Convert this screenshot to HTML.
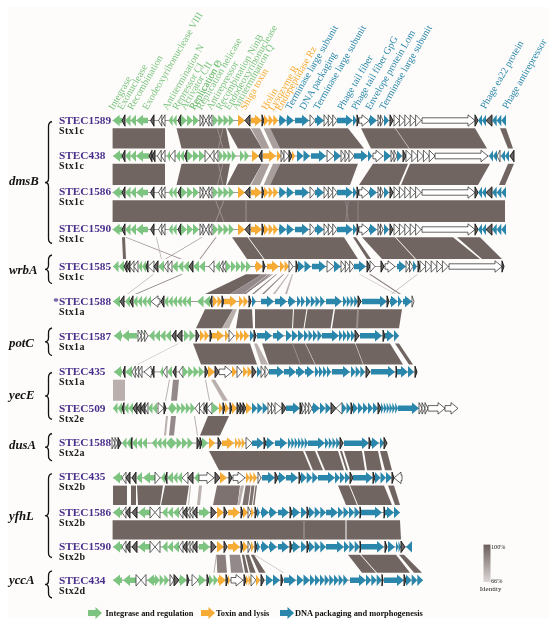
<!DOCTYPE html>
<html><head><meta charset="utf-8"><title>Prophage comparison</title>
<style>
html,body{margin:0;padding:0;background:#fff;}
body{width:550px;height:625px;overflow:hidden;}
svg{display:block;}
</style></head><body>
<svg width="550" height="625" viewBox="0 0 550 625">
<rect x="0" y="0" width="550" height="625" fill="#fff"/>
<rect x="8" y="7" width="541" height="611" fill="#fdfcfa"/>
<polygon points="112.6,128.3 165,128.3 165,148.5 112.6,148.5" fill="#716562"/>
<polygon points="176.5,128.3 226,128.3 230,148.5 181.6,148.5" fill="#716562"/>
<polygon points="227,128.3 250,128.3 262,148.5 238,148.5" fill="#716562"/>
<polygon points="251,128.3 260,128.3 269.5,148.5 262,148.5" fill="#a89e9c"/>
<polygon points="263.6,128.3 270,128.3 280,148.5 273,148.5" fill="#a89e9c"/>
<polygon points="270,128.3 348,128.3 364,148.5 280,148.5" fill="#716562"/>
<polygon points="217,128.3 217.8,128.3 223.3,148.5 222.5,148.5" fill="#a39997"/>
<polygon points="222.5,128.3 223.3,128.3 218.8,148.5 218,148.5" fill="#a39997"/>
<polygon points="361,128.3 395,128.3 409,148.5 371,148.5" fill="#716562"/>
<polygon points="395.5,128.3 475,128.3 487,148.5 409.5,148.5" fill="#716562"/>
<polygon points="500,128.3 506,128.3 513,148.5 508,148.5" fill="#716562"/>
<polygon points="112.6,163.8 165,163.8 165,185.0 112.6,185.0" fill="#716562"/>
<polygon points="181.6,163.8 230,163.8 226,185.0 176.5,185.0" fill="#716562"/>
<polygon points="238,163.8 262,163.8 250,185.0 227,185.0" fill="#716562"/>
<polygon points="262,163.8 269.5,163.8 260,185.0 251,185.0" fill="#a89e9c"/>
<polygon points="273,163.8 280,163.8 270,185.0 263.6,185.0" fill="#a89e9c"/>
<polygon points="280,163.8 358,163.8 350,185.0 270,185.0" fill="#716562"/>
<polygon points="222.5,163.8 223.3,163.8 217.8,185.0 217,185.0" fill="#a39997"/>
<polygon points="218,163.8 218.8,163.8 223.3,185.0 222.5,185.0" fill="#a39997"/>
<polygon points="373,163.8 408,163.8 399,185.0 359,185.0" fill="#716562"/>
<polygon points="410,163.8 490,163.8 478,185.0 401,185.0" fill="#716562"/>
<polygon points="508,163.8 514,163.8 505,185.0 499,185.0" fill="#716562"/>
<polygon points="112.6,200.3 505,200.3 505,222.0 112.6,222.0" fill="#716562"/>
<polygon points="215,200.3 216,200.3 224.5,222.0 223.5,222.0" fill="#9d9391"/>
<polygon points="223.5,200.3 224.5,200.3 216,222.0 215,222.0" fill="#9d9391"/>
<polygon points="245.5,200.3 246.5,200.3 246.5,222.0 245.5,222.0" fill="#9d9391"/>
<polygon points="345,200.3 346,200.3 349,222.0 348,222.0" fill="#8f8583"/>
<polygon points="348,200.3 349,200.3 346,222.0 345,222.0" fill="#8f8583"/>
<polygon points="357.5,200.3 358.5,200.3 358.5,222.0 357.5,222.0" fill="#8f8583"/>
<polygon points="122,237.3 125,237.3 126,259.0 123,259.0" fill="#716562"/>
<polygon points="125,237.3 126.5,237.3 182,259.0 180,259.0" fill="#8a7f7d"/>
<polygon points="156,237.3 156.8,237.3 161.8,259.0 161,259.0" fill="#b9b0ae"/>
<polygon points="201.5,237.3 202.5,237.3 166,259.0 165,259.0" fill="#8a7f7d"/>
<polygon points="215.5,237.3 216.5,237.3 200.5,259.0 199.5,259.0" fill="#8a7f7d"/>
<polygon points="232,237.3 247.5,237.3 263.5,259.0 247,259.0" fill="#716562"/>
<polygon points="248.5,237.3 344,237.3 358,259.0 264.5,259.0" fill="#716562"/>
<polygon points="353,237.3 356,237.3 371,259.0 367,259.0" fill="#716562"/>
<polygon points="362,237.3 395,237.3 415,259.0 382,259.0" fill="#716562"/>
<polygon points="396,237.3 453,237.3 480,259.0 416,259.0" fill="#716562"/>
<polygon points="457,237.3 480,237.3 502,259.0 482,259.0" fill="#716562"/>
<polygon points="153,274.3 154,274.3 128,294.0 127,294.0" fill="#b9b0ae"/>
<polygon points="181,274.3 183,274.3 137,294.0 135,294.0" fill="#8a7f7d"/>
<polygon points="246,274.3 262,274.3 230,294.0 205,294.0" fill="#716562"/>
<polygon points="262,274.3 268,274.3 243,294.0 230,294.0" fill="#94898a"/>
<polygon points="268.5,274.3 271,274.3 246,294.0 243.5,294.0" fill="#94898a"/>
<polygon points="272,274.3 273,274.3 245,294.0 243,294.0" fill="#8a7f7d"/>
<polygon points="276,274.3 277,274.3 254,294.0 252,294.0" fill="#8a7f7d"/>
<polygon points="283,274.3 284,274.3 264,294.0 262,294.0" fill="#8a7f7d"/>
<polygon points="288,274.3 289,274.3 275,294.0 273,294.0" fill="#b9b0ae"/>
<polygon points="292,274.3 293,274.3 287,294.0 285,294.0" fill="#b9b0ae"/>
<polygon points="359,274.3 360,274.3 396,294.0 395,294.0" fill="#b9b0ae"/>
<polygon points="369,274.3 371,274.3 401,294.0 399,294.0" fill="#8a7f7d"/>
<polygon points="417,274.3 418,274.3 392,294.0 391,294.0" fill="#b9b0ae"/>
<polygon points="205,309.3 233,309.3 222,328.3 196,328.3" fill="#716562"/>
<polygon points="233,309.3 237,309.3 229,328.3 222,328.3" fill="#b9b0ae"/>
<polygon points="239,309.3 252,309.3 253,328.3 236,328.3" fill="#716562"/>
<polygon points="255,309.3 293,309.3 292,328.3 255,328.3" fill="#716562"/>
<polygon points="294,309.3 306.5,309.3 303.5,328.3 293,328.3" fill="#716562"/>
<polygon points="307.5,309.3 333.5,309.3 330.5,328.3 304.5,328.3" fill="#716562"/>
<polygon points="335,309.3 402,309.3 399,328.3 332,328.3" fill="#716562"/>
<polygon points="357,309.3 359,309.3 358,328.3 356,328.3" fill="#9a8f8d"/>
<polygon points="178,343.6 179,343.6 138,364.4 137,364.4" fill="#b9b0ae"/>
<polygon points="193,343.6 250,343.6 257,364.4 201,364.4" fill="#716562"/>
<polygon points="254,343.6 257,343.6 268,364.4 261,364.4" fill="#b9b0ae"/>
<polygon points="262,343.6 305,343.6 315,364.4 269,364.4" fill="#716562"/>
<polygon points="292,343.6 293,343.6 301,364.4 300,364.4" fill="#9a8f8d"/>
<polygon points="305.5,343.6 355,343.6 363,364.4 315.5,364.4" fill="#716562"/>
<polygon points="355.5,343.6 390,343.6 403,364.4 363.5,364.4" fill="#716562"/>
<polygon points="395,343.6 399,343.6 413,364.4 409,364.4" fill="#716562"/>
<polygon points="113,379.7 125,379.7 125,400.8 113,400.8" fill="#b9b0ae"/>
<polygon points="169,379.7 170,379.7 166,400.8 165,400.8" fill="#b9b0ae"/>
<polygon points="173,379.7 179,379.7 177,400.8 171,400.8" fill="#94898a"/>
<polygon points="205,379.7 206,379.7 210,400.8 209,400.8" fill="#b9b0ae"/>
<polygon points="211,379.7 215,379.7 228,400.8 223,400.8" fill="#b9b0ae"/>
<polygon points="166,416.1 168,416.1 166,435.6 164,435.6" fill="#b9b0ae"/>
<polygon points="171,416.1 176,416.1 174,435.6 169,435.6" fill="#94898a"/>
<polygon points="194,416.1 195,416.1 198,435.6 197,435.6" fill="#b9b0ae"/>
<polygon points="208,416.1 229,416.1 220,435.6 200,435.6" fill="#716562"/>
<polygon points="209,450.90000000000003 303,450.90000000000003 311,470.3 219,470.3" fill="#716562"/>
<polygon points="305,450.90000000000003 315,450.90000000000003 323,470.3 313,470.3" fill="#716562"/>
<polygon points="317,450.90000000000003 338,450.90000000000003 344,470.3 325,470.3" fill="#716562"/>
<polygon points="340,450.90000000000003 342,450.90000000000003 348,470.3 346,470.3" fill="#716562"/>
<polygon points="344,450.90000000000003 362,450.90000000000003 365,470.3 350,470.3" fill="#716562"/>
<polygon points="364,450.90000000000003 378,450.90000000000003 382,470.3 367,470.3" fill="#716562"/>
<polygon points="380,450.90000000000003 387,450.90000000000003 392,470.3 385,470.3" fill="#716562"/>
<polygon points="113,485.6 127,485.6 127,505.0 113,505.0" fill="#716562"/>
<polygon points="131,485.6 136,485.6 136,505.0 131,505.0" fill="#716562"/>
<polygon points="137,485.6 163,485.6 160,505.0 138,505.0" fill="#716562"/>
<polygon points="165,485.6 189,485.6 186,505.0 161,505.0" fill="#716562"/>
<polygon points="190,485.6 191,485.6 189,505.0 188,505.0" fill="#b9b0ae"/>
<polygon points="199,485.6 202,485.6 200,505.0 197,505.0" fill="#b9b0ae"/>
<polygon points="217,485.6 240,485.6 237.5,505.0 213,505.0" fill="#7d7270"/>
<polygon points="240.7,485.6 244,485.6 240,505.0 237.5,505.0" fill="#b9b0ae"/>
<polygon points="245.6,485.6 250.6,485.6 248,505.0 242.4,505.0" fill="#7d7270"/>
<polygon points="251.4,485.6 254.6,485.6 252,505.0 249,505.0" fill="#7d7270"/>
<polygon points="255.5,485.6 257,485.6 254.6,505.0 253,505.0" fill="#7d7270"/>
<polygon points="338,485.6 349,485.6 357,505.0 346,505.0" fill="#716562"/>
<polygon points="350,485.6 384,485.6 392,505.0 358,505.0" fill="#716562"/>
<polygon points="388,485.6 394,485.6 400,505.0 395,505.0" fill="#716562"/>
<polygon points="112.6,520.3 345.5,520.3 345.5,539.4 112.6,539.4" fill="#716562"/>
<polygon points="346.5,520.3 400,520.3 401,539.4 346.5,539.4" fill="#716562"/>
<polygon points="303,520.3 305,520.3 305,539.4 303,539.4" fill="#8c8280"/>
<polygon points="216,554.6999999999999 217,554.6999999999999 214.5,572.7 213.5,572.7" fill="#b9b0ae"/>
<polygon points="216.5,554.6999999999999 225.5,554.6999999999999 227,572.7 217.3,572.7" fill="#8a7f7d"/>
<polygon points="229.5,554.6999999999999 240,554.6999999999999 243.5,572.7 231,572.7" fill="#94898a"/>
<polygon points="241.8,554.6999999999999 244.3,554.6999999999999 248.4,572.7 245,572.7" fill="#716562"/>
<polygon points="245.5,554.6999999999999 249,554.6999999999999 255.7,572.7 250,572.7" fill="#716562"/>
<polygon points="250.8,554.6999999999999 254,554.6999999999999 265.6,572.7 259,572.7" fill="#716562"/>
<polygon points="254,554.6999999999999 255,554.6999999999999 284,572.7 283,572.7" fill="#b9b0ae"/>
<polygon points="348,554.6999999999999 360,554.6999999999999 376,572.7 362,572.7" fill="#716562"/>
<polygon points="361,554.6999999999999 396,554.6999999999999 410,572.7 377,572.7" fill="#716562"/>
<polygon points="399,554.6999999999999 404,554.6999999999999 422,572.7 414,572.7" fill="#716562"/>
<line x1="112.6" y1="120.5" x2="506.0" y2="120.5" stroke="#555" stroke-width="0.6"/>
<polygon points="122.0,117.8 119.6,117.8 119.6,114.8 112.6,120.5 119.6,126.2 119.6,123.2 122.0,123.2" fill="#7cc480"/>
<polygon points="125.0,114.8 122.0,120.5 125.0,126.2" fill="#6a6464" stroke="#111" stroke-width="0.9" stroke-linejoin="miter"/>
<polygon points="130.5,114.8 125.0,120.5 130.5,126.2" fill="#7cc480"/>
<polygon points="136.0,114.8 130.5,120.5 136.0,126.2" fill="#7cc480"/>
<polygon points="148.0,117.8 143.0,117.8 143.0,114.8 136.0,120.5 143.0,126.2 143.0,123.2 148.0,123.2" fill="#7cc480"/>
<polygon points="154.0,114.8 150.6,120.5 154.0,126.2" fill="#6a6464" stroke="#111" stroke-width="0.9" stroke-linejoin="miter"/>
<polygon points="161.8,114.8 158.6,120.5 161.8,126.2" fill="#fff" stroke="#222" stroke-width="0.7" stroke-linejoin="miter"/>
<polygon points="165.0,114.8 161.8,120.5 165.0,126.2" fill="#fff" stroke="#222" stroke-width="0.7" stroke-linejoin="miter"/>
<polygon points="172.6,114.8 168.6,120.5 172.6,126.2" fill="#7cc480"/>
<polygon points="176.6,114.8 172.6,120.5 176.6,126.2" fill="#7cc480"/>
<polygon points="181.0,114.8 178.0,120.5 181.0,126.2" fill="#6a6464" stroke="#111" stroke-width="0.9" stroke-linejoin="miter"/>
<polygon points="181.0,114.8 187.0,120.5 181.0,126.2" fill="#7cc480"/>
<polygon points="187.0,114.8 193.0,120.5 187.0,126.2" fill="#7cc480"/>
<polygon points="193.0,114.8 199.0,120.5 193.0,126.2" fill="#7cc480"/>
<polygon points="200.0,114.8 203.0,120.5 200.0,126.2" fill="#fff" stroke="#222" stroke-width="0.7" stroke-linejoin="miter"/>
<polygon points="203.0,114.8 206.0,120.5 203.0,126.2" fill="#fff" stroke="#222" stroke-width="0.7" stroke-linejoin="miter"/>
<polygon points="209.0,114.8 206.0,120.5 209.0,126.2" fill="#fff" stroke="#222" stroke-width="0.7" stroke-linejoin="miter"/>
<polygon points="212.0,114.8 209.0,120.5 212.0,126.2" fill="#fff" stroke="#222" stroke-width="0.7" stroke-linejoin="miter"/>
<polygon points="213.0,114.8 218.2,120.5 213.0,126.2" fill="#7cc480"/>
<polygon points="218.2,114.8 223.5,120.5 218.2,126.2" fill="#7cc480"/>
<polygon points="223.5,114.8 228.8,120.5 223.5,126.2" fill="#7cc480"/>
<polygon points="228.8,114.8 234.0,120.5 228.8,126.2" fill="#7cc480"/>
<polygon points="238.0,114.8 245.0,120.5 238.0,126.2" fill="#f6ab35"/>
<polygon points="250.0,114.8 245.0,120.5 250.0,126.2" fill="#6a6464" stroke="#111" stroke-width="0.9" stroke-linejoin="miter"/>
<polygon points="251.0,117.8 255.0,117.8 255.0,114.8 262.0,120.5 255.0,126.2 255.0,123.2 251.0,123.2" fill="#f6ab35"/>
<polygon points="262.0,114.8 264.0,120.5 262.0,126.2" fill="#6a6464" stroke="#111" stroke-width="0.9" stroke-linejoin="miter"/>
<polygon points="264.0,114.8 268.7,120.5 264.0,126.2" fill="#f6ab35"/>
<polygon points="268.7,114.8 273.3,120.5 268.7,126.2" fill="#f6ab35"/>
<polygon points="273.3,114.8 278.0,120.5 273.3,126.2" fill="#f6ab35"/>
<polygon points="279.0,117.8 279.5,117.8 279.5,114.8 286.5,120.5 279.5,126.2 279.5,123.2 279.0,123.2" fill="#2a87ab"/>
<polygon points="286.5,117.8 287.0,117.8 287.0,114.8 294.0,120.5 287.0,126.2 287.0,123.2 286.5,123.2" fill="#2a87ab"/>
<polygon points="295.0,117.8 302.0,117.8 302.0,114.8 309.0,120.5 302.0,126.2 302.0,123.2 295.0,123.2" fill="#2a87ab"/>
<polygon points="310.0,114.8 315.0,120.5 310.0,126.2" fill="#fff" stroke="#222" stroke-width="0.7" stroke-linejoin="miter"/>
<polygon points="315.0,117.8 317.0,117.8 317.0,114.8 324.0,120.5 317.0,126.2 317.0,123.2 315.0,123.2" fill="#2a87ab"/>
<polygon points="324.0,114.8 328.3,120.5 324.0,126.2" fill="#fff" stroke="#222" stroke-width="0.7" stroke-linejoin="miter"/>
<polygon points="328.3,114.8 332.7,120.5 328.3,126.2" fill="#fff" stroke="#222" stroke-width="0.7" stroke-linejoin="miter"/>
<polygon points="332.7,114.8 337.0,120.5 332.7,126.2" fill="#fff" stroke="#222" stroke-width="0.7" stroke-linejoin="miter"/>
<polygon points="337.0,117.8 346.0,117.8 346.0,114.8 353.0,120.5 346.0,126.2 346.0,123.2 337.0,123.2" fill="#2a87ab"/>
<polygon points="353.0,114.8 357.0,120.5 353.0,126.2" fill="#2a87ab"/>
<polygon points="357.0,114.8 359.0,120.5 357.0,126.2" fill="#6a6464" stroke="#111" stroke-width="0.9" stroke-linejoin="miter"/>
<polygon points="359.0,117.8 362.0,117.8 362.0,114.8 369.0,120.5 362.0,126.2 362.0,123.2 359.0,123.2" fill="#fff" stroke="#222" stroke-width="0.7" stroke-linejoin="miter"/>
<polygon points="369.0,117.8 370.0,117.8 370.0,114.8 377.0,120.5 370.0,126.2 370.0,123.2 369.0,123.2" fill="#2a87ab"/>
<polygon points="378.0,114.8 380.5,120.5 378.0,126.2" fill="#fff" stroke="#222" stroke-width="0.7" stroke-linejoin="miter"/>
<polygon points="380.5,114.8 383.0,120.5 380.5,126.2" fill="#fff" stroke="#222" stroke-width="0.7" stroke-linejoin="miter"/>
<polygon points="384.0,114.8 389.0,120.5 384.0,126.2" fill="#2a87ab"/>
<polygon points="390.0,114.8 393.0,120.5 390.0,126.2" fill="#6a6464" stroke="#111" stroke-width="0.9" stroke-linejoin="miter"/>
<polygon points="394.0,114.8 399.4,120.5 394.0,126.2" fill="#fff" stroke="#222" stroke-width="0.7" stroke-linejoin="miter"/>
<polygon points="399.4,114.8 404.8,120.5 399.4,126.2" fill="#fff" stroke="#222" stroke-width="0.7" stroke-linejoin="miter"/>
<polygon points="404.8,114.8 410.2,120.5 404.8,126.2" fill="#fff" stroke="#222" stroke-width="0.7" stroke-linejoin="miter"/>
<polygon points="410.2,114.8 415.6,120.5 410.2,126.2" fill="#fff" stroke="#222" stroke-width="0.7" stroke-linejoin="miter"/>
<polygon points="415.6,114.8 421.0,120.5 415.6,126.2" fill="#fff" stroke="#222" stroke-width="0.7" stroke-linejoin="miter"/>
<polygon points="422.0,117.8 468.0,117.8 468.0,114.8 475.0,120.5 468.0,126.2 468.0,123.2 422.0,123.2" fill="#fff" stroke="#222" stroke-width="0.7" stroke-linejoin="miter"/>
<polygon points="475.0,114.8 478.0,120.5 475.0,126.2" fill="#6a6464" stroke="#111" stroke-width="0.9" stroke-linejoin="miter"/>
<polygon points="482.0,114.8 478.0,120.5 482.0,126.2" fill="#2a87ab"/>
<polygon points="486.0,114.8 482.0,120.5 486.0,126.2" fill="#2a87ab"/>
<polygon points="492.0,114.8 486.0,120.5 492.0,126.2" fill="#6a6464" stroke="#111" stroke-width="0.9" stroke-linejoin="miter"/>
<polygon points="496.7,114.8 492.0,120.5 496.7,126.2" fill="#2a87ab"/>
<polygon points="501.3,114.8 496.7,120.5 501.3,126.2" fill="#2a87ab"/>
<polygon points="506.0,114.8 501.3,120.5 506.0,126.2" fill="#2a87ab"/>
<line x1="113.0" y1="156.0" x2="514.0" y2="156.0" stroke="#555" stroke-width="0.6"/>
<polygon points="122.0,153.2 120.0,153.2 120.0,150.2 113.0,156.0 120.0,161.8 120.0,158.8 122.0,158.8" fill="#7cc480"/>
<polygon points="125.0,150.2 122.0,156.0 125.0,161.8" fill="#6a6464" stroke="#111" stroke-width="0.9" stroke-linejoin="miter"/>
<polygon points="130.5,150.2 125.0,156.0 130.5,161.8" fill="#7cc480"/>
<polygon points="136.0,150.2 130.5,156.0 136.0,161.8" fill="#7cc480"/>
<polygon points="149.0,153.2 143.0,153.2 143.0,150.2 136.0,156.0 143.0,161.8 143.0,158.8 149.0,158.8" fill="#7cc480"/>
<polygon points="152.0,150.2 149.0,156.0 152.0,161.8" fill="#6a6464" stroke="#111" stroke-width="0.9" stroke-linejoin="miter"/>
<polygon points="155.0,150.2 152.0,156.0 155.0,161.8" fill="#6a6464" stroke="#111" stroke-width="0.9" stroke-linejoin="miter"/>
<polygon points="161.2,150.2 157.4,156.0 161.2,161.8" fill="#fff" stroke="#222" stroke-width="0.7" stroke-linejoin="miter"/>
<polygon points="165.0,150.2 161.2,156.0 165.0,161.8" fill="#fff" stroke="#222" stroke-width="0.7" stroke-linejoin="miter"/>
<polygon points="170.0,150.2 167.0,156.0 170.0,161.8" fill="#7cc480"/>
<polygon points="175.0,150.2 170.0,156.0 175.0,161.8" fill="#fff" stroke="#222" stroke-width="0.7" stroke-linejoin="miter"/>
<polygon points="180.0,150.2 176.0,156.0 180.0,161.8" fill="#7cc480"/>
<polygon points="184.0,150.2 180.0,156.0 184.0,161.8" fill="#7cc480"/>
<polygon points="187.0,150.2 184.6,156.0 187.0,161.8" fill="#6a6464" stroke="#111" stroke-width="0.9" stroke-linejoin="miter"/>
<polygon points="187.0,150.2 193.0,156.0 187.0,161.8" fill="#7cc480"/>
<polygon points="193.0,150.2 199.0,156.0 193.0,161.8" fill="#7cc480"/>
<polygon points="199.0,150.2 205.0,156.0 199.0,161.8" fill="#7cc480"/>
<polygon points="205.0,150.2 210.0,156.0 205.0,161.8" fill="#fff" stroke="#222" stroke-width="0.7" stroke-linejoin="miter"/>
<polygon points="214.0,150.2 210.0,156.0 214.0,161.8" fill="#fff" stroke="#222" stroke-width="0.7" stroke-linejoin="miter"/>
<polygon points="218.0,150.2 214.0,156.0 218.0,161.8" fill="#fff" stroke="#222" stroke-width="0.7" stroke-linejoin="miter"/>
<polygon points="219.0,150.2 223.2,156.0 219.0,161.8" fill="#7cc480"/>
<polygon points="223.2,150.2 227.5,156.0 223.2,161.8" fill="#7cc480"/>
<polygon points="227.5,150.2 231.8,156.0 227.5,161.8" fill="#7cc480"/>
<polygon points="231.8,150.2 236.0,156.0 231.8,161.8" fill="#7cc480"/>
<polygon points="240.0,150.2 244.5,156.0 240.0,161.8" fill="#7cc480"/>
<polygon points="244.5,150.2 249.0,156.0 244.5,161.8" fill="#7cc480"/>
<polygon points="252.0,150.2 259.0,156.0 252.0,161.8" fill="#f6ab35"/>
<polygon points="262.0,150.2 259.0,156.0 262.0,161.8" fill="#6a6464" stroke="#111" stroke-width="0.9" stroke-linejoin="miter"/>
<polygon points="263.0,153.2 269.0,153.2 269.0,150.2 276.0,156.0 269.0,161.8 269.0,158.8 263.0,158.8" fill="#f6ab35"/>
<polygon points="277.0,150.2 281.0,156.0 277.0,161.8" fill="#f6ab35"/>
<polygon points="281.0,150.2 284.0,156.0 281.0,161.8" fill="#fff" stroke="#222" stroke-width="0.7" stroke-linejoin="miter"/>
<polygon points="284.0,150.2 289.0,156.0 284.0,161.8" fill="#fff" stroke="#222" stroke-width="0.7" stroke-linejoin="miter"/>
<polygon points="289.0,150.2 292.0,156.0 289.0,161.8" fill="#6a6464" stroke="#111" stroke-width="0.9" stroke-linejoin="miter"/>
<polygon points="292.0,150.2 295.0,156.0 292.0,161.8" fill="#f6ab35"/>
<polygon points="297.0,150.2 303.5,156.0 297.0,161.8" fill="#2a87ab"/>
<polygon points="303.5,150.2 310.0,156.0 303.5,161.8" fill="#2a87ab"/>
<polygon points="311.0,153.2 319.0,153.2 319.0,150.2 326.0,156.0 319.0,161.8 319.0,158.8 311.0,158.8" fill="#2a87ab"/>
<polygon points="327.0,150.2 334.0,156.0 327.0,161.8" fill="#fff" stroke="#222" stroke-width="0.7" stroke-linejoin="miter"/>
<polygon points="334.0,150.2 341.0,156.0 334.0,161.8" fill="#2a87ab"/>
<polygon points="341.0,150.2 345.0,156.0 341.0,161.8" fill="#fff" stroke="#222" stroke-width="0.7" stroke-linejoin="miter"/>
<polygon points="345.0,150.2 349.0,156.0 345.0,161.8" fill="#fff" stroke="#222" stroke-width="0.7" stroke-linejoin="miter"/>
<polygon points="349.0,150.2 354.0,156.0 349.0,161.8" fill="#fff" stroke="#222" stroke-width="0.7" stroke-linejoin="miter"/>
<polygon points="354.0,153.2 361.0,153.2 361.0,150.2 368.0,156.0 361.0,161.8 361.0,158.8 354.0,158.8" fill="#2a87ab"/>
<polygon points="368.0,150.2 372.0,156.0 368.0,161.8" fill="#2a87ab"/>
<polygon points="373.0,153.2 376.0,153.2 376.0,150.2 383.0,156.0 376.0,161.8 376.0,158.8 373.0,158.8" fill="#fff" stroke="#222" stroke-width="0.7" stroke-linejoin="miter"/>
<polygon points="384.0,150.2 391.0,156.0 384.0,161.8" fill="#2a87ab"/>
<polygon points="391.0,150.2 394.0,156.0 391.0,161.8" fill="#fff" stroke="#222" stroke-width="0.7" stroke-linejoin="miter"/>
<polygon points="394.0,150.2 397.0,156.0 394.0,161.8" fill="#fff" stroke="#222" stroke-width="0.7" stroke-linejoin="miter"/>
<polygon points="397.0,150.2 402.0,156.0 397.0,161.8" fill="#2a87ab"/>
<polygon points="403.0,150.2 406.0,156.0 403.0,161.8" fill="#6a6464" stroke="#111" stroke-width="0.9" stroke-linejoin="miter"/>
<polygon points="406.0,150.2 411.8,156.0 406.0,161.8" fill="#fff" stroke="#222" stroke-width="0.7" stroke-linejoin="miter"/>
<polygon points="411.8,150.2 417.6,156.0 411.8,161.8" fill="#fff" stroke="#222" stroke-width="0.7" stroke-linejoin="miter"/>
<polygon points="417.6,150.2 423.4,156.0 417.6,161.8" fill="#fff" stroke="#222" stroke-width="0.7" stroke-linejoin="miter"/>
<polygon points="423.4,150.2 429.2,156.0 423.4,161.8" fill="#fff" stroke="#222" stroke-width="0.7" stroke-linejoin="miter"/>
<polygon points="429.2,150.2 435.0,156.0 429.2,161.8" fill="#fff" stroke="#222" stroke-width="0.7" stroke-linejoin="miter"/>
<polygon points="435.0,153.2 481.0,153.2 481.0,150.2 488.0,156.0 481.0,161.8 481.0,158.8 435.0,158.8" fill="#fff" stroke="#222" stroke-width="0.7" stroke-linejoin="miter"/>
<polygon points="493.0,150.2 489.0,156.0 493.0,161.8" fill="#2a87ab"/>
<polygon points="497.0,150.2 493.0,156.0 497.0,161.8" fill="#2a87ab"/>
<polygon points="500.0,150.2 497.0,156.0 500.0,161.8" fill="#fff" stroke="#222" stroke-width="0.7" stroke-linejoin="miter"/>
<polygon points="505.0,150.2 501.0,156.0 505.0,161.8" fill="#2a87ab"/>
<polygon points="509.0,150.2 505.0,156.0 509.0,161.8" fill="#2a87ab"/>
<polygon points="514.0,150.2 510.0,156.0 514.0,161.8" fill="#6a6464" stroke="#111" stroke-width="0.9" stroke-linejoin="miter"/>
<line x1="112.6" y1="192.5" x2="506.0" y2="192.5" stroke="#555" stroke-width="0.6"/>
<polygon points="122.0,189.8 119.6,189.8 119.6,186.8 112.6,192.5 119.6,198.2 119.6,195.2 122.0,195.2" fill="#7cc480"/>
<polygon points="125.0,186.8 122.0,192.5 125.0,198.2" fill="#6a6464" stroke="#111" stroke-width="0.9" stroke-linejoin="miter"/>
<polygon points="130.5,186.8 125.0,192.5 130.5,198.2" fill="#7cc480"/>
<polygon points="136.0,186.8 130.5,192.5 136.0,198.2" fill="#7cc480"/>
<polygon points="148.0,189.8 143.0,189.8 143.0,186.8 136.0,192.5 143.0,198.2 143.0,195.2 148.0,195.2" fill="#7cc480"/>
<polygon points="154.0,186.8 150.6,192.5 154.0,198.2" fill="#6a6464" stroke="#111" stroke-width="0.9" stroke-linejoin="miter"/>
<polygon points="161.8,186.8 158.6,192.5 161.8,198.2" fill="#fff" stroke="#222" stroke-width="0.7" stroke-linejoin="miter"/>
<polygon points="165.0,186.8 161.8,192.5 165.0,198.2" fill="#fff" stroke="#222" stroke-width="0.7" stroke-linejoin="miter"/>
<polygon points="172.6,186.8 168.6,192.5 172.6,198.2" fill="#7cc480"/>
<polygon points="176.6,186.8 172.6,192.5 176.6,198.2" fill="#7cc480"/>
<polygon points="181.0,186.8 178.0,192.5 181.0,198.2" fill="#6a6464" stroke="#111" stroke-width="0.9" stroke-linejoin="miter"/>
<polygon points="181.0,186.8 187.0,192.5 181.0,198.2" fill="#7cc480"/>
<polygon points="187.0,186.8 193.0,192.5 187.0,198.2" fill="#7cc480"/>
<polygon points="193.0,186.8 199.0,192.5 193.0,198.2" fill="#7cc480"/>
<polygon points="200.0,186.8 203.0,192.5 200.0,198.2" fill="#fff" stroke="#222" stroke-width="0.7" stroke-linejoin="miter"/>
<polygon points="203.0,186.8 206.0,192.5 203.0,198.2" fill="#fff" stroke="#222" stroke-width="0.7" stroke-linejoin="miter"/>
<polygon points="209.0,186.8 206.0,192.5 209.0,198.2" fill="#fff" stroke="#222" stroke-width="0.7" stroke-linejoin="miter"/>
<polygon points="212.0,186.8 209.0,192.5 212.0,198.2" fill="#fff" stroke="#222" stroke-width="0.7" stroke-linejoin="miter"/>
<polygon points="213.0,186.8 218.2,192.5 213.0,198.2" fill="#7cc480"/>
<polygon points="218.2,186.8 223.5,192.5 218.2,198.2" fill="#7cc480"/>
<polygon points="223.5,186.8 228.8,192.5 223.5,198.2" fill="#7cc480"/>
<polygon points="228.8,186.8 234.0,192.5 228.8,198.2" fill="#7cc480"/>
<polygon points="238.0,186.8 245.0,192.5 238.0,198.2" fill="#f6ab35"/>
<polygon points="250.0,186.8 245.0,192.5 250.0,198.2" fill="#6a6464" stroke="#111" stroke-width="0.9" stroke-linejoin="miter"/>
<polygon points="251.0,189.8 255.0,189.8 255.0,186.8 262.0,192.5 255.0,198.2 255.0,195.2 251.0,195.2" fill="#f6ab35"/>
<polygon points="262.0,186.8 264.0,192.5 262.0,198.2" fill="#6a6464" stroke="#111" stroke-width="0.9" stroke-linejoin="miter"/>
<polygon points="264.0,186.8 268.7,192.5 264.0,198.2" fill="#f6ab35"/>
<polygon points="268.7,186.8 273.3,192.5 268.7,198.2" fill="#f6ab35"/>
<polygon points="273.3,186.8 278.0,192.5 273.3,198.2" fill="#f6ab35"/>
<polygon points="279.0,189.8 279.5,189.8 279.5,186.8 286.5,192.5 279.5,198.2 279.5,195.2 279.0,195.2" fill="#2a87ab"/>
<polygon points="286.5,189.8 287.0,189.8 287.0,186.8 294.0,192.5 287.0,198.2 287.0,195.2 286.5,195.2" fill="#2a87ab"/>
<polygon points="295.0,189.8 302.0,189.8 302.0,186.8 309.0,192.5 302.0,198.2 302.0,195.2 295.0,195.2" fill="#2a87ab"/>
<polygon points="310.0,186.8 315.0,192.5 310.0,198.2" fill="#fff" stroke="#222" stroke-width="0.7" stroke-linejoin="miter"/>
<polygon points="315.0,189.8 317.0,189.8 317.0,186.8 324.0,192.5 317.0,198.2 317.0,195.2 315.0,195.2" fill="#2a87ab"/>
<polygon points="324.0,186.8 328.3,192.5 324.0,198.2" fill="#fff" stroke="#222" stroke-width="0.7" stroke-linejoin="miter"/>
<polygon points="328.3,186.8 332.7,192.5 328.3,198.2" fill="#fff" stroke="#222" stroke-width="0.7" stroke-linejoin="miter"/>
<polygon points="332.7,186.8 337.0,192.5 332.7,198.2" fill="#fff" stroke="#222" stroke-width="0.7" stroke-linejoin="miter"/>
<polygon points="337.0,189.8 346.0,189.8 346.0,186.8 353.0,192.5 346.0,198.2 346.0,195.2 337.0,195.2" fill="#2a87ab"/>
<polygon points="353.0,186.8 357.0,192.5 353.0,198.2" fill="#2a87ab"/>
<polygon points="357.0,186.8 359.0,192.5 357.0,198.2" fill="#6a6464" stroke="#111" stroke-width="0.9" stroke-linejoin="miter"/>
<polygon points="359.0,189.8 362.0,189.8 362.0,186.8 369.0,192.5 362.0,198.2 362.0,195.2 359.0,195.2" fill="#fff" stroke="#222" stroke-width="0.7" stroke-linejoin="miter"/>
<polygon points="369.0,189.8 370.0,189.8 370.0,186.8 377.0,192.5 370.0,198.2 370.0,195.2 369.0,195.2" fill="#2a87ab"/>
<polygon points="378.0,186.8 380.5,192.5 378.0,198.2" fill="#fff" stroke="#222" stroke-width="0.7" stroke-linejoin="miter"/>
<polygon points="380.5,186.8 383.0,192.5 380.5,198.2" fill="#fff" stroke="#222" stroke-width="0.7" stroke-linejoin="miter"/>
<polygon points="384.0,186.8 389.0,192.5 384.0,198.2" fill="#2a87ab"/>
<polygon points="390.0,186.8 393.0,192.5 390.0,198.2" fill="#6a6464" stroke="#111" stroke-width="0.9" stroke-linejoin="miter"/>
<polygon points="394.0,186.8 399.4,192.5 394.0,198.2" fill="#fff" stroke="#222" stroke-width="0.7" stroke-linejoin="miter"/>
<polygon points="399.4,186.8 404.8,192.5 399.4,198.2" fill="#fff" stroke="#222" stroke-width="0.7" stroke-linejoin="miter"/>
<polygon points="404.8,186.8 410.2,192.5 404.8,198.2" fill="#fff" stroke="#222" stroke-width="0.7" stroke-linejoin="miter"/>
<polygon points="410.2,186.8 415.6,192.5 410.2,198.2" fill="#fff" stroke="#222" stroke-width="0.7" stroke-linejoin="miter"/>
<polygon points="415.6,186.8 421.0,192.5 415.6,198.2" fill="#fff" stroke="#222" stroke-width="0.7" stroke-linejoin="miter"/>
<polygon points="422.0,189.8 468.0,189.8 468.0,186.8 475.0,192.5 468.0,198.2 468.0,195.2 422.0,195.2" fill="#fff" stroke="#222" stroke-width="0.7" stroke-linejoin="miter"/>
<polygon points="475.0,186.8 478.0,192.5 475.0,198.2" fill="#6a6464" stroke="#111" stroke-width="0.9" stroke-linejoin="miter"/>
<polygon points="482.0,186.8 478.0,192.5 482.0,198.2" fill="#2a87ab"/>
<polygon points="486.0,186.8 482.0,192.5 486.0,198.2" fill="#2a87ab"/>
<polygon points="492.0,186.8 486.0,192.5 492.0,198.2" fill="#6a6464" stroke="#111" stroke-width="0.9" stroke-linejoin="miter"/>
<polygon points="496.7,186.8 492.0,192.5 496.7,198.2" fill="#2a87ab"/>
<polygon points="501.3,186.8 496.7,192.5 501.3,198.2" fill="#2a87ab"/>
<polygon points="506.0,186.8 501.3,192.5 506.0,198.2" fill="#2a87ab"/>
<line x1="112.6" y1="229.5" x2="506.0" y2="229.5" stroke="#555" stroke-width="0.6"/>
<polygon points="122.0,226.8 119.6,226.8 119.6,223.8 112.6,229.5 119.6,235.2 119.6,232.2 122.0,232.2" fill="#7cc480"/>
<polygon points="125.0,223.8 122.0,229.5 125.0,235.2" fill="#6a6464" stroke="#111" stroke-width="0.9" stroke-linejoin="miter"/>
<polygon points="130.5,223.8 125.0,229.5 130.5,235.2" fill="#7cc480"/>
<polygon points="136.0,223.8 130.5,229.5 136.0,235.2" fill="#7cc480"/>
<polygon points="148.0,226.8 143.0,226.8 143.0,223.8 136.0,229.5 143.0,235.2 143.0,232.2 148.0,232.2" fill="#7cc480"/>
<polygon points="154.0,223.8 150.6,229.5 154.0,235.2" fill="#6a6464" stroke="#111" stroke-width="0.9" stroke-linejoin="miter"/>
<polygon points="161.8,223.8 158.6,229.5 161.8,235.2" fill="#fff" stroke="#222" stroke-width="0.7" stroke-linejoin="miter"/>
<polygon points="165.0,223.8 161.8,229.5 165.0,235.2" fill="#fff" stroke="#222" stroke-width="0.7" stroke-linejoin="miter"/>
<polygon points="172.6,223.8 168.6,229.5 172.6,235.2" fill="#7cc480"/>
<polygon points="176.6,223.8 172.6,229.5 176.6,235.2" fill="#7cc480"/>
<polygon points="181.0,223.8 178.0,229.5 181.0,235.2" fill="#6a6464" stroke="#111" stroke-width="0.9" stroke-linejoin="miter"/>
<polygon points="181.0,223.8 187.0,229.5 181.0,235.2" fill="#7cc480"/>
<polygon points="187.0,223.8 193.0,229.5 187.0,235.2" fill="#7cc480"/>
<polygon points="193.0,223.8 199.0,229.5 193.0,235.2" fill="#7cc480"/>
<polygon points="200.0,223.8 203.0,229.5 200.0,235.2" fill="#fff" stroke="#222" stroke-width="0.7" stroke-linejoin="miter"/>
<polygon points="203.0,223.8 206.0,229.5 203.0,235.2" fill="#fff" stroke="#222" stroke-width="0.7" stroke-linejoin="miter"/>
<polygon points="209.0,223.8 206.0,229.5 209.0,235.2" fill="#fff" stroke="#222" stroke-width="0.7" stroke-linejoin="miter"/>
<polygon points="212.0,223.8 209.0,229.5 212.0,235.2" fill="#fff" stroke="#222" stroke-width="0.7" stroke-linejoin="miter"/>
<polygon points="213.0,223.8 218.2,229.5 213.0,235.2" fill="#7cc480"/>
<polygon points="218.2,223.8 223.5,229.5 218.2,235.2" fill="#7cc480"/>
<polygon points="223.5,223.8 228.8,229.5 223.5,235.2" fill="#7cc480"/>
<polygon points="228.8,223.8 234.0,229.5 228.8,235.2" fill="#7cc480"/>
<polygon points="238.0,223.8 245.0,229.5 238.0,235.2" fill="#f6ab35"/>
<polygon points="250.0,223.8 245.0,229.5 250.0,235.2" fill="#6a6464" stroke="#111" stroke-width="0.9" stroke-linejoin="miter"/>
<polygon points="251.0,226.8 255.0,226.8 255.0,223.8 262.0,229.5 255.0,235.2 255.0,232.2 251.0,232.2" fill="#f6ab35"/>
<polygon points="262.0,223.8 264.0,229.5 262.0,235.2" fill="#6a6464" stroke="#111" stroke-width="0.9" stroke-linejoin="miter"/>
<polygon points="264.0,223.8 268.7,229.5 264.0,235.2" fill="#f6ab35"/>
<polygon points="268.7,223.8 273.3,229.5 268.7,235.2" fill="#f6ab35"/>
<polygon points="273.3,223.8 278.0,229.5 273.3,235.2" fill="#f6ab35"/>
<polygon points="279.0,226.8 279.5,226.8 279.5,223.8 286.5,229.5 279.5,235.2 279.5,232.2 279.0,232.2" fill="#2a87ab"/>
<polygon points="286.5,226.8 287.0,226.8 287.0,223.8 294.0,229.5 287.0,235.2 287.0,232.2 286.5,232.2" fill="#2a87ab"/>
<polygon points="295.0,226.8 302.0,226.8 302.0,223.8 309.0,229.5 302.0,235.2 302.0,232.2 295.0,232.2" fill="#2a87ab"/>
<polygon points="310.0,223.8 315.0,229.5 310.0,235.2" fill="#fff" stroke="#222" stroke-width="0.7" stroke-linejoin="miter"/>
<polygon points="315.0,226.8 317.0,226.8 317.0,223.8 324.0,229.5 317.0,235.2 317.0,232.2 315.0,232.2" fill="#2a87ab"/>
<polygon points="324.0,223.8 328.3,229.5 324.0,235.2" fill="#fff" stroke="#222" stroke-width="0.7" stroke-linejoin="miter"/>
<polygon points="328.3,223.8 332.7,229.5 328.3,235.2" fill="#fff" stroke="#222" stroke-width="0.7" stroke-linejoin="miter"/>
<polygon points="332.7,223.8 337.0,229.5 332.7,235.2" fill="#fff" stroke="#222" stroke-width="0.7" stroke-linejoin="miter"/>
<polygon points="337.0,226.8 346.0,226.8 346.0,223.8 353.0,229.5 346.0,235.2 346.0,232.2 337.0,232.2" fill="#2a87ab"/>
<polygon points="353.0,223.8 357.0,229.5 353.0,235.2" fill="#2a87ab"/>
<polygon points="357.0,223.8 359.0,229.5 357.0,235.2" fill="#6a6464" stroke="#111" stroke-width="0.9" stroke-linejoin="miter"/>
<polygon points="359.0,226.8 362.0,226.8 362.0,223.8 369.0,229.5 362.0,235.2 362.0,232.2 359.0,232.2" fill="#fff" stroke="#222" stroke-width="0.7" stroke-linejoin="miter"/>
<polygon points="369.0,226.8 370.0,226.8 370.0,223.8 377.0,229.5 370.0,235.2 370.0,232.2 369.0,232.2" fill="#2a87ab"/>
<polygon points="378.0,223.8 380.5,229.5 378.0,235.2" fill="#fff" stroke="#222" stroke-width="0.7" stroke-linejoin="miter"/>
<polygon points="380.5,223.8 383.0,229.5 380.5,235.2" fill="#fff" stroke="#222" stroke-width="0.7" stroke-linejoin="miter"/>
<polygon points="384.0,223.8 389.0,229.5 384.0,235.2" fill="#2a87ab"/>
<polygon points="390.0,223.8 393.0,229.5 390.0,235.2" fill="#6a6464" stroke="#111" stroke-width="0.9" stroke-linejoin="miter"/>
<polygon points="394.0,223.8 399.4,229.5 394.0,235.2" fill="#fff" stroke="#222" stroke-width="0.7" stroke-linejoin="miter"/>
<polygon points="399.4,223.8 404.8,229.5 399.4,235.2" fill="#fff" stroke="#222" stroke-width="0.7" stroke-linejoin="miter"/>
<polygon points="404.8,223.8 410.2,229.5 404.8,235.2" fill="#fff" stroke="#222" stroke-width="0.7" stroke-linejoin="miter"/>
<polygon points="410.2,223.8 415.6,229.5 410.2,235.2" fill="#fff" stroke="#222" stroke-width="0.7" stroke-linejoin="miter"/>
<polygon points="415.6,223.8 421.0,229.5 415.6,235.2" fill="#fff" stroke="#222" stroke-width="0.7" stroke-linejoin="miter"/>
<polygon points="422.0,226.8 468.0,226.8 468.0,223.8 475.0,229.5 468.0,235.2 468.0,232.2 422.0,232.2" fill="#fff" stroke="#222" stroke-width="0.7" stroke-linejoin="miter"/>
<polygon points="475.0,223.8 478.0,229.5 475.0,235.2" fill="#6a6464" stroke="#111" stroke-width="0.9" stroke-linejoin="miter"/>
<polygon points="482.0,223.8 478.0,229.5 482.0,235.2" fill="#2a87ab"/>
<polygon points="486.0,223.8 482.0,229.5 486.0,235.2" fill="#2a87ab"/>
<polygon points="492.0,223.8 486.0,229.5 492.0,235.2" fill="#6a6464" stroke="#111" stroke-width="0.9" stroke-linejoin="miter"/>
<polygon points="496.7,223.8 492.0,229.5 496.7,235.2" fill="#2a87ab"/>
<polygon points="501.3,223.8 496.7,229.5 501.3,235.2" fill="#2a87ab"/>
<polygon points="506.0,223.8 501.3,229.5 506.0,235.2" fill="#2a87ab"/>
<line x1="113.0" y1="266.5" x2="504.0" y2="266.5" stroke="#555" stroke-width="0.6"/>
<polygon points="118.5,260.8 113.0,266.5 118.5,272.2" fill="#7cc480"/>
<polygon points="124.0,260.8 118.5,266.5 124.0,272.2" fill="#7cc480"/>
<polygon points="127.0,260.8 124.0,266.5 127.0,272.2" fill="#6a6464" stroke="#111" stroke-width="0.9" stroke-linejoin="miter"/>
<polygon points="130.0,260.8 127.0,266.5 130.0,272.2" fill="#6a6464" stroke="#111" stroke-width="0.9" stroke-linejoin="miter"/>
<polygon points="134.0,260.8 130.0,266.5 134.0,272.2" fill="#fff" stroke="#222" stroke-width="0.7" stroke-linejoin="miter"/>
<polygon points="138.0,260.8 134.0,266.5 138.0,272.2" fill="#fff" stroke="#222" stroke-width="0.7" stroke-linejoin="miter"/>
<polygon points="142.0,260.8 138.0,266.5 142.0,272.2" fill="#7cc480"/>
<polygon points="146.0,260.8 142.0,266.5 146.0,272.2" fill="#7cc480"/>
<polygon points="148.0,260.8 146.0,266.5 148.0,272.2" fill="#6a6464" stroke="#111" stroke-width="0.9" stroke-linejoin="miter"/>
<polygon points="154.0,260.8 148.0,266.5 154.0,272.2" fill="#fff" stroke="#222" stroke-width="0.7" stroke-linejoin="miter"/>
<polygon points="158.0,260.8 154.0,266.5 158.0,272.2" fill="#6a6464" stroke="#111" stroke-width="0.9" stroke-linejoin="miter"/>
<polygon points="164.0,260.8 158.0,266.5 164.0,272.2" fill="#7cc480"/>
<polygon points="168.0,260.8 164.0,266.5 168.0,272.2" fill="#fff" stroke="#222" stroke-width="0.7" stroke-linejoin="miter"/>
<polygon points="172.0,260.8 168.0,266.5 172.0,272.2" fill="#fff" stroke="#222" stroke-width="0.7" stroke-linejoin="miter"/>
<polygon points="177.7,260.8 172.0,266.5 177.7,272.2" fill="#7cc480"/>
<polygon points="183.3,260.8 177.7,266.5 183.3,272.2" fill="#7cc480"/>
<polygon points="189.0,260.8 183.3,266.5 189.0,272.2" fill="#7cc480"/>
<polygon points="193.0,260.8 189.0,266.5 193.0,272.2" fill="#6a6464" stroke="#111" stroke-width="0.9" stroke-linejoin="miter"/>
<polygon points="199.0,260.8 193.0,266.5 199.0,272.2" fill="#7cc480"/>
<polygon points="205.0,260.8 199.0,266.5 205.0,272.2" fill="#7cc480"/>
<polygon points="214.0,260.8 209.0,266.5 214.0,272.2" fill="#fff" stroke="#222" stroke-width="0.7" stroke-linejoin="miter"/>
<polygon points="220.0,260.8 215.0,266.5 220.0,272.2" fill="#7cc480"/>
<polygon points="223.0,260.8 220.0,266.5 223.0,272.2" fill="#fff" stroke="#222" stroke-width="0.7" stroke-linejoin="miter"/>
<polygon points="226.0,260.8 223.0,266.5 226.0,272.2" fill="#fff" stroke="#222" stroke-width="0.7" stroke-linejoin="miter"/>
<polygon points="226.0,260.8 231.0,266.5 226.0,272.2" fill="#7cc480"/>
<polygon points="231.0,260.8 236.0,266.5 231.0,272.2" fill="#7cc480"/>
<polygon points="236.0,260.8 241.0,266.5 236.0,272.2" fill="#7cc480"/>
<polygon points="241.0,260.8 246.0,266.5 241.0,272.2" fill="#7cc480"/>
<polygon points="246.0,260.8 251.0,266.5 246.0,272.2" fill="#7cc480"/>
<polygon points="255.0,263.8 256.0,263.8 256.0,260.8 263.0,266.5 256.0,272.2 256.0,269.2 255.0,269.2" fill="#f6ab35"/>
<polygon points="263.0,260.8 265.0,266.5 263.0,272.2" fill="#6a6464" stroke="#111" stroke-width="0.9" stroke-linejoin="miter"/>
<polygon points="267.0,263.8 272.0,263.8 272.0,260.8 279.0,266.5 272.0,272.2 272.0,269.2 267.0,269.2" fill="#f6ab35"/>
<polygon points="280.0,260.8 284.5,266.5 280.0,272.2" fill="#f6ab35"/>
<polygon points="284.5,260.8 289.0,266.5 284.5,272.2" fill="#f6ab35"/>
<polygon points="289.0,260.8 293.0,266.5 289.0,272.2" fill="#fff" stroke="#222" stroke-width="0.7" stroke-linejoin="miter"/>
<polygon points="296.0,260.8 298.0,266.5 296.0,272.2" fill="#6a6464" stroke="#111" stroke-width="0.9" stroke-linejoin="miter"/>
<polygon points="298.0,260.8 304.5,266.5 298.0,272.2" fill="#2a87ab"/>
<polygon points="304.5,260.8 311.0,266.5 304.5,272.2" fill="#2a87ab"/>
<polygon points="312.0,263.8 319.0,263.8 319.0,260.8 326.0,266.5 319.0,272.2 319.0,269.2 312.0,269.2" fill="#2a87ab"/>
<polygon points="327.0,260.8 334.0,266.5 327.0,272.2" fill="#fff" stroke="#222" stroke-width="0.7" stroke-linejoin="miter"/>
<polygon points="334.0,260.8 341.0,266.5 334.0,272.2" fill="#2a87ab"/>
<polygon points="341.0,260.8 345.3,266.5 341.0,272.2" fill="#fff" stroke="#222" stroke-width="0.7" stroke-linejoin="miter"/>
<polygon points="345.3,260.8 349.7,266.5 345.3,272.2" fill="#fff" stroke="#222" stroke-width="0.7" stroke-linejoin="miter"/>
<polygon points="349.7,260.8 354.0,266.5 349.7,272.2" fill="#fff" stroke="#222" stroke-width="0.7" stroke-linejoin="miter"/>
<polygon points="354.0,263.8 359.0,263.8 359.0,260.8 366.0,266.5 359.0,272.2 359.0,269.2 354.0,269.2" fill="#2a87ab"/>
<polygon points="367.0,260.8 370.0,266.5 367.0,272.2" fill="#6a6464" stroke="#111" stroke-width="0.9" stroke-linejoin="miter"/>
<polygon points="370.0,260.8 375.0,266.5 370.0,272.2" fill="#fff" stroke="#222" stroke-width="0.7" stroke-linejoin="miter"/>
<polygon points="381.0,260.8 384.0,266.5 381.0,272.2" fill="#6a6464" stroke="#111" stroke-width="0.9" stroke-linejoin="miter"/>
<polygon points="385.0,263.8 388.0,263.8 388.0,260.8 395.0,266.5 388.0,272.2 388.0,269.2 385.0,269.2" fill="#fff" stroke="#222" stroke-width="0.7" stroke-linejoin="miter"/>
<polygon points="397.0,263.8 399.0,263.8 399.0,260.8 406.0,266.5 399.0,272.2 399.0,269.2 397.0,269.2" fill="#2a87ab"/>
<polygon points="406.0,260.8 409.5,266.5 406.0,272.2" fill="#fff" stroke="#222" stroke-width="0.7" stroke-linejoin="miter"/>
<polygon points="409.5,260.8 413.0,266.5 409.5,272.2" fill="#fff" stroke="#222" stroke-width="0.7" stroke-linejoin="miter"/>
<polygon points="413.0,260.8 417.0,266.5 413.0,272.2" fill="#2a87ab"/>
<polygon points="418.0,260.8 420.0,266.5 418.0,272.2" fill="#6a6464" stroke="#111" stroke-width="0.9" stroke-linejoin="miter"/>
<polygon points="420.0,260.8 425.6,266.5 420.0,272.2" fill="#fff" stroke="#222" stroke-width="0.7" stroke-linejoin="miter"/>
<polygon points="425.6,260.8 431.2,266.5 425.6,272.2" fill="#fff" stroke="#222" stroke-width="0.7" stroke-linejoin="miter"/>
<polygon points="431.2,260.8 436.8,266.5 431.2,272.2" fill="#fff" stroke="#222" stroke-width="0.7" stroke-linejoin="miter"/>
<polygon points="436.8,260.8 442.4,266.5 436.8,272.2" fill="#fff" stroke="#222" stroke-width="0.7" stroke-linejoin="miter"/>
<polygon points="442.4,260.8 448.0,266.5 442.4,272.2" fill="#fff" stroke="#222" stroke-width="0.7" stroke-linejoin="miter"/>
<polygon points="449.0,263.8 495.0,263.8 495.0,260.8 502.0,266.5 495.0,272.2 495.0,269.2 449.0,269.2" fill="#fff" stroke="#222" stroke-width="0.7" stroke-linejoin="miter"/>
<polygon points="502.0,260.8 504.0,266.5 502.0,272.2" fill="#6a6464" stroke="#111" stroke-width="0.9" stroke-linejoin="miter"/>
<line x1="113.0" y1="301.5" x2="414.0" y2="301.5" stroke="#555" stroke-width="0.6"/>
<polygon points="120.0,295.8 113.0,301.5 120.0,307.2" fill="#7cc480"/>
<polygon points="124.0,295.8 120.0,301.5 124.0,307.2" fill="#6a6464" stroke="#111" stroke-width="0.9" stroke-linejoin="miter"/>
<polygon points="130.0,295.8 125.0,301.5 130.0,307.2" fill="#7cc480"/>
<polygon points="133.0,295.8 130.0,301.5 133.0,307.2" fill="#6a6464" stroke="#111" stroke-width="0.9" stroke-linejoin="miter"/>
<polygon points="137.5,295.8 133.0,301.5 137.5,307.2" fill="#7cc480"/>
<polygon points="142.0,295.8 137.5,301.5 142.0,307.2" fill="#7cc480"/>
<polygon points="146.5,295.8 142.0,301.5 146.5,307.2" fill="#7cc480"/>
<polygon points="151.0,295.8 146.5,301.5 151.0,307.2" fill="#7cc480"/>
<polygon points="160.0,298.8 158.0,298.8 158.0,295.8 151.0,301.5 158.0,307.2 158.0,304.2 160.0,304.2" fill="#fff" stroke="#222" stroke-width="0.7" stroke-linejoin="miter"/>
<polygon points="164.0,295.8 161.0,301.5 164.0,307.2" fill="#6a6464" stroke="#111" stroke-width="0.9" stroke-linejoin="miter"/>
<polygon points="168.3,295.8 164.0,301.5 168.3,307.2" fill="#7cc480"/>
<polygon points="172.7,295.8 168.3,301.5 172.7,307.2" fill="#7cc480"/>
<polygon points="177.0,295.8 172.7,301.5 177.0,307.2" fill="#7cc480"/>
<polygon points="181.7,295.8 177.0,301.5 181.7,307.2" fill="#7cc480"/>
<polygon points="186.3,295.8 181.7,301.5 186.3,307.2" fill="#7cc480"/>
<polygon points="191.0,295.8 186.3,301.5 191.0,307.2" fill="#7cc480"/>
<polygon points="203.5,295.8 197.0,301.5 203.5,307.2" fill="#7cc480"/>
<polygon points="210.0,295.8 203.5,301.5 210.0,307.2" fill="#7cc480"/>
<polygon points="212.0,295.8 210.0,301.5 212.0,307.2" fill="#6a6464" stroke="#111" stroke-width="0.9" stroke-linejoin="miter"/>
<polygon points="213.0,295.8 217.5,301.5 213.0,307.2" fill="#f6ab35"/>
<polygon points="217.5,295.8 222.0,301.5 217.5,307.2" fill="#f6ab35"/>
<polygon points="222.0,295.8 224.0,301.5 222.0,307.2" fill="#6a6464" stroke="#111" stroke-width="0.9" stroke-linejoin="miter"/>
<polygon points="224.0,298.8 230.0,298.8 230.0,295.8 237.0,301.5 230.0,307.2 230.0,304.2 224.0,304.2" fill="#f6ab35"/>
<polygon points="239.0,295.8 243.5,301.5 239.0,307.2" fill="#f6ab35"/>
<polygon points="243.5,295.8 248.0,301.5 243.5,307.2" fill="#f6ab35"/>
<polygon points="249.0,295.8 251.0,301.5 249.0,307.2" fill="#6a6464" stroke="#111" stroke-width="0.9" stroke-linejoin="miter"/>
<polygon points="252.0,295.8 256.0,301.5 252.0,307.2" fill="#2a87ab"/>
<polygon points="261.0,298.8 267.0,298.8 267.0,295.8 274.0,301.5 267.0,307.2 267.0,304.2 261.0,304.2" fill="#2a87ab"/>
<polygon points="275.0,298.8 280.0,298.8 280.0,295.8 287.0,301.5 280.0,307.2 280.0,304.2 275.0,304.2" fill="#2a87ab"/>
<polygon points="288.0,298.8 289.0,298.8 289.0,295.8 296.0,301.5 289.0,307.2 289.0,304.2 288.0,304.2" fill="#2a87ab"/>
<polygon points="297.0,295.8 301.0,301.5 297.0,307.2" fill="#2a87ab"/>
<polygon points="301.0,295.8 305.0,301.5 301.0,307.2" fill="#2a87ab"/>
<polygon points="306.0,295.8 310.8,301.5 306.0,307.2" fill="#2a87ab"/>
<polygon points="310.8,295.8 315.5,301.5 310.8,307.2" fill="#2a87ab"/>
<polygon points="315.5,295.8 320.2,301.5 315.5,307.2" fill="#2a87ab"/>
<polygon points="320.2,295.8 325.0,301.5 320.2,307.2" fill="#2a87ab"/>
<polygon points="326.0,298.8 335.0,298.8 335.0,295.8 342.0,301.5 335.0,307.2 335.0,304.2 326.0,304.2" fill="#2a87ab"/>
<polygon points="343.0,295.8 346.8,301.5 343.0,307.2" fill="#2a87ab"/>
<polygon points="346.8,295.8 350.5,301.5 346.8,307.2" fill="#2a87ab"/>
<polygon points="350.5,295.8 354.2,301.5 350.5,307.2" fill="#2a87ab"/>
<polygon points="354.2,295.8 358.0,301.5 354.2,307.2" fill="#2a87ab"/>
<polygon points="358.0,295.8 361.0,301.5 358.0,307.2" fill="#6a6464" stroke="#111" stroke-width="0.9" stroke-linejoin="miter"/>
<polygon points="362.0,298.8 380.0,298.8 380.0,295.8 387.0,301.5 380.0,307.2 380.0,304.2 362.0,304.2" fill="#2a87ab"/>
<polygon points="387.0,295.8 389.0,301.5 387.0,307.2" fill="#6a6464" stroke="#111" stroke-width="0.9" stroke-linejoin="miter"/>
<polygon points="390.0,298.8 391.0,298.8 391.0,295.8 398.0,301.5 391.0,307.2 391.0,304.2 390.0,304.2" fill="#2a87ab"/>
<polygon points="398.0,295.8 402.0,301.5 398.0,307.2" fill="#2a87ab"/>
<polygon points="403.0,298.8 405.0,298.8 405.0,295.8 412.0,301.5 405.0,307.2 405.0,304.2 403.0,304.2" fill="#2a87ab"/>
<polygon points="412.0,295.8 414.0,301.5 412.0,307.2" fill="#fff" stroke="#222" stroke-width="0.7" stroke-linejoin="miter"/>
<line x1="114.0" y1="335.8" x2="399.0" y2="335.8" stroke="#555" stroke-width="0.6"/>
<polygon points="122.0,333.1 121.0,333.1 121.0,330.1 114.0,335.8 121.0,341.6 121.0,338.6 122.0,338.6" fill="#7cc480"/>
<polygon points="137.0,333.1 129.0,333.1 129.0,330.1 122.0,335.8 129.0,341.6 129.0,338.6 137.0,338.6" fill="#7cc480"/>
<polygon points="138.0,330.1 141.3,335.8 138.0,341.6" fill="#fff" stroke="#222" stroke-width="0.7" stroke-linejoin="miter"/>
<polygon points="141.3,330.1 144.7,335.8 141.3,341.6" fill="#fff" stroke="#222" stroke-width="0.7" stroke-linejoin="miter"/>
<polygon points="144.7,330.1 148.0,335.8 144.7,341.6" fill="#fff" stroke="#222" stroke-width="0.7" stroke-linejoin="miter"/>
<polygon points="154.5,330.1 149.0,335.8 154.5,341.6" fill="#7cc480"/>
<polygon points="160.0,330.1 154.5,335.8 160.0,341.6" fill="#7cc480"/>
<polygon points="165.5,330.1 160.0,335.8 165.5,341.6" fill="#7cc480"/>
<polygon points="171.0,330.1 165.5,335.8 171.0,341.6" fill="#7cc480"/>
<polygon points="176.0,330.1 172.0,335.8 176.0,341.6" fill="#6a6464" stroke="#111" stroke-width="0.9" stroke-linejoin="miter"/>
<polygon points="182.0,330.1 177.0,335.8 182.0,341.6" fill="#6a6464" stroke="#111" stroke-width="0.9" stroke-linejoin="miter"/>
<polygon points="184.0,330.1 189.5,335.8 184.0,341.6" fill="#7cc480"/>
<polygon points="189.5,330.1 195.0,335.8 189.5,341.6" fill="#7cc480"/>
<polygon points="196.0,330.1 199.0,335.8 196.0,341.6" fill="#6a6464" stroke="#111" stroke-width="0.9" stroke-linejoin="miter"/>
<polygon points="200.0,330.1 204.5,335.8 200.0,341.6" fill="#f6ab35"/>
<polygon points="204.5,330.1 209.0,335.8 204.5,341.6" fill="#f6ab35"/>
<polygon points="210.0,330.1 212.0,335.8 210.0,341.6" fill="#6a6464" stroke="#111" stroke-width="0.9" stroke-linejoin="miter"/>
<polygon points="212.0,333.1 217.0,333.1 217.0,330.1 224.0,335.8 217.0,341.6 217.0,338.6 212.0,338.6" fill="#f6ab35"/>
<polygon points="225.0,330.1 229.0,335.8 225.0,341.6" fill="#f6ab35"/>
<polygon points="229.0,330.1 234.0,335.8 229.0,341.6" fill="#fff" stroke="#222" stroke-width="0.7" stroke-linejoin="miter"/>
<polygon points="236.0,330.1 240.0,335.8 236.0,341.6" fill="#f6ab35"/>
<polygon points="240.0,330.1 244.0,335.8 240.0,341.6" fill="#f6ab35"/>
<polygon points="244.0,330.1 249.0,335.8 244.0,341.6" fill="#f6ab35"/>
<polygon points="250.0,330.1 254.0,335.8 250.0,341.6" fill="#2a87ab"/>
<polygon points="254.0,330.1 256.0,335.8 254.0,341.6" fill="#6a6464" stroke="#111" stroke-width="0.9" stroke-linejoin="miter"/>
<polygon points="257.0,333.1 265.0,333.1 265.0,330.1 272.0,335.8 265.0,341.6 265.0,338.6 257.0,338.6" fill="#2a87ab"/>
<polygon points="273.0,333.1 277.0,333.1 277.0,330.1 284.0,335.8 277.0,341.6 277.0,338.6 273.0,338.6" fill="#2a87ab"/>
<polygon points="286.0,330.1 292.0,335.8 286.0,341.6" fill="#2a87ab"/>
<polygon points="292.0,330.1 298.0,335.8 292.0,341.6" fill="#2a87ab"/>
<polygon points="298.0,330.1 304.0,335.8 298.0,341.6" fill="#2a87ab"/>
<polygon points="304.0,330.1 308.5,335.8 304.0,341.6" fill="#2a87ab"/>
<polygon points="308.5,330.1 313.0,335.8 308.5,341.6" fill="#2a87ab"/>
<polygon points="313.0,330.1 317.5,335.8 313.0,341.6" fill="#2a87ab"/>
<polygon points="317.5,330.1 322.0,335.8 317.5,341.6" fill="#2a87ab"/>
<polygon points="322.0,333.1 332.0,333.1 332.0,330.1 339.0,335.8 332.0,341.6 332.0,338.6 322.0,338.6" fill="#2a87ab"/>
<polygon points="339.0,330.1 343.0,335.8 339.0,341.6" fill="#2a87ab"/>
<polygon points="343.0,330.1 347.0,335.8 343.0,341.6" fill="#2a87ab"/>
<polygon points="347.0,330.1 351.0,335.8 347.0,341.6" fill="#2a87ab"/>
<polygon points="351.0,330.1 355.0,335.8 351.0,341.6" fill="#2a87ab"/>
<polygon points="355.0,330.1 359.0,335.8 355.0,341.6" fill="#6a6464" stroke="#111" stroke-width="0.9" stroke-linejoin="miter"/>
<polygon points="360.0,333.1 375.0,333.1 375.0,330.1 382.0,335.8 375.0,341.6 375.0,338.6 360.0,338.6" fill="#2a87ab"/>
<polygon points="383.0,330.1 385.0,335.8 383.0,341.6" fill="#6a6464" stroke="#111" stroke-width="0.9" stroke-linejoin="miter"/>
<polygon points="385.0,333.1 387.0,333.1 387.0,330.1 394.0,335.8 387.0,341.6 387.0,338.6 385.0,338.6" fill="#2a87ab"/>
<polygon points="394.0,330.1 399.0,335.8 394.0,341.6" fill="#2a87ab"/>
<line x1="114.0" y1="371.9" x2="417.0" y2="371.9" stroke="#555" stroke-width="0.6"/>
<polygon points="122.0,369.1 121.0,369.1 121.0,366.1 114.0,371.9 121.0,377.6 121.0,374.6 122.0,374.6" fill="#7cc480"/>
<polygon points="125.0,366.1 123.0,371.9 125.0,377.6" fill="#6a6464" stroke="#111" stroke-width="0.9" stroke-linejoin="miter"/>
<polygon points="132.0,366.1 125.0,371.9 132.0,377.6" fill="#7cc480"/>
<polygon points="135.3,366.1 132.0,371.9 135.3,377.6" fill="#fff" stroke="#222" stroke-width="0.7" stroke-linejoin="miter"/>
<polygon points="138.7,366.1 135.3,371.9 138.7,377.6" fill="#fff" stroke="#222" stroke-width="0.7" stroke-linejoin="miter"/>
<polygon points="142.0,366.1 138.7,371.9 142.0,377.6" fill="#fff" stroke="#222" stroke-width="0.7" stroke-linejoin="miter"/>
<polygon points="152.0,369.1 151.0,369.1 151.0,366.1 144.0,371.9 151.0,377.6 151.0,374.6 152.0,374.6" fill="#fff" stroke="#222" stroke-width="0.7" stroke-linejoin="miter"/>
<polygon points="154.0,366.1 152.0,371.9 154.0,377.6" fill="#6a6464" stroke="#111" stroke-width="0.9" stroke-linejoin="miter"/>
<polygon points="163.0,366.1 160.0,371.9 163.0,377.6" fill="#7cc480"/>
<polygon points="167.0,366.1 163.0,371.9 167.0,377.6" fill="#fff" stroke="#222" stroke-width="0.7" stroke-linejoin="miter"/>
<polygon points="172.0,366.1 167.0,371.9 172.0,377.6" fill="#7cc480"/>
<polygon points="176.0,366.1 173.0,371.9 176.0,377.6" fill="#6a6464" stroke="#111" stroke-width="0.9" stroke-linejoin="miter"/>
<polygon points="183.0,366.1 179.0,371.9 183.0,377.6" fill="#fff" stroke="#222" stroke-width="0.7" stroke-linejoin="miter"/>
<polygon points="183.0,366.1 188.2,371.9 183.0,377.6" fill="#7cc480"/>
<polygon points="188.2,366.1 193.5,371.9 188.2,377.6" fill="#7cc480"/>
<polygon points="193.5,366.1 198.8,371.9 193.5,377.6" fill="#7cc480"/>
<polygon points="198.8,366.1 204.0,371.9 198.8,377.6" fill="#7cc480"/>
<polygon points="205.0,366.1 208.0,371.9 205.0,377.6" fill="#6a6464" stroke="#111" stroke-width="0.9" stroke-linejoin="miter"/>
<polygon points="208.0,366.1 215.0,371.9 208.0,377.6" fill="#f6ab35"/>
<polygon points="215.0,366.1 219.0,371.9 215.0,377.6" fill="#6a6464" stroke="#111" stroke-width="0.9" stroke-linejoin="miter"/>
<polygon points="219.0,369.1 225.0,369.1 225.0,366.1 232.0,371.9 225.0,377.6 225.0,374.6 219.0,374.6" fill="#fff" stroke="#222" stroke-width="0.7" stroke-linejoin="miter"/>
<polygon points="232.0,366.1 237.0,371.9 232.0,377.6" fill="#f6ab35"/>
<polygon points="237.0,366.1 242.0,371.9 237.0,377.6" fill="#fff" stroke="#222" stroke-width="0.7" stroke-linejoin="miter"/>
<polygon points="243.0,366.1 247.5,371.9 243.0,377.6" fill="#f6ab35"/>
<polygon points="247.5,366.1 252.0,371.9 247.5,377.6" fill="#f6ab35"/>
<polygon points="252.0,366.1 256.0,371.9 252.0,377.6" fill="#6a6464" stroke="#111" stroke-width="0.9" stroke-linejoin="miter"/>
<polygon points="257.0,366.1 261.0,371.9 257.0,377.6" fill="#2a87ab"/>
<polygon points="261.0,366.1 265.0,371.9 261.0,377.6" fill="#fff" stroke="#222" stroke-width="0.7" stroke-linejoin="miter"/>
<polygon points="265.0,366.1 269.0,371.9 265.0,377.6" fill="#fff" stroke="#222" stroke-width="0.7" stroke-linejoin="miter"/>
<polygon points="269.0,369.1 277.0,369.1 277.0,366.1 284.0,371.9 277.0,377.6 277.0,374.6 269.0,374.6" fill="#2a87ab"/>
<polygon points="284.0,369.1 289.0,369.1 289.0,366.1 296.0,371.9 289.0,377.6 289.0,374.6 284.0,374.6" fill="#2a87ab"/>
<polygon points="296.0,369.1 298.0,369.1 298.0,366.1 305.0,371.9 298.0,377.6 298.0,374.6 296.0,374.6" fill="#2a87ab"/>
<polygon points="305.0,369.1 307.0,369.1 307.0,366.1 314.0,371.9 307.0,377.6 307.0,374.6 305.0,374.6" fill="#2a87ab"/>
<polygon points="315.0,366.1 319.0,371.9 315.0,377.6" fill="#2a87ab"/>
<polygon points="319.0,366.1 323.0,371.9 319.0,377.6" fill="#2a87ab"/>
<polygon points="323.0,366.1 327.0,371.9 323.0,377.6" fill="#2a87ab"/>
<polygon points="327.0,366.1 331.0,371.9 327.0,377.6" fill="#2a87ab"/>
<polygon points="332.0,369.1 343.0,369.1 343.0,366.1 350.0,371.9 343.0,377.6 343.0,374.6 332.0,374.6" fill="#2a87ab"/>
<polygon points="351.0,366.1 355.7,371.9 351.0,377.6" fill="#2a87ab"/>
<polygon points="355.7,366.1 360.3,371.9 355.7,377.6" fill="#2a87ab"/>
<polygon points="360.3,366.1 365.0,371.9 360.3,377.6" fill="#2a87ab"/>
<polygon points="366.0,366.1 370.0,371.9 366.0,377.6" fill="#6a6464" stroke="#111" stroke-width="0.9" stroke-linejoin="miter"/>
<polygon points="371.0,369.1 388.0,369.1 388.0,366.1 395.0,371.9 388.0,377.6 388.0,374.6 371.0,374.6" fill="#2a87ab"/>
<polygon points="396.0,366.1 397.0,371.9 396.0,377.6" fill="#6a6464" stroke="#111" stroke-width="0.9" stroke-linejoin="miter"/>
<polygon points="397.0,369.1 401.0,369.1 401.0,366.1 408.0,371.9 401.0,377.6 401.0,374.6 397.0,374.6" fill="#2a87ab"/>
<polygon points="408.0,366.1 414.0,371.9 408.0,377.6" fill="#2a87ab"/>
<polygon points="415.0,366.1 417.0,371.9 415.0,377.6" fill="#6a6464" stroke="#111" stroke-width="0.9" stroke-linejoin="miter"/>
<line x1="113.0" y1="408.3" x2="458.0" y2="408.3" stroke="#555" stroke-width="0.6"/>
<polygon points="117.5,402.6 113.0,408.3 117.5,414.1" fill="#7cc480"/>
<polygon points="122.0,402.6 117.5,408.3 122.0,414.1" fill="#7cc480"/>
<polygon points="124.0,402.6 122.0,408.3 124.0,414.1" fill="#6a6464" stroke="#111" stroke-width="0.9" stroke-linejoin="miter"/>
<polygon points="128.5,402.6 124.0,408.3 128.5,414.1" fill="#7cc480"/>
<polygon points="133.0,402.6 128.5,408.3 133.0,414.1" fill="#7cc480"/>
<polygon points="137.0,402.6 133.0,408.3 137.0,414.1" fill="#6a6464" stroke="#111" stroke-width="0.9" stroke-linejoin="miter"/>
<polygon points="141.0,402.6 137.0,408.3 141.0,414.1" fill="#6a6464" stroke="#111" stroke-width="0.9" stroke-linejoin="miter"/>
<polygon points="145.0,402.6 141.0,408.3 145.0,414.1" fill="#6a6464" stroke="#111" stroke-width="0.9" stroke-linejoin="miter"/>
<polygon points="148.0,402.6 145.0,408.3 148.0,414.1" fill="#fff" stroke="#222" stroke-width="0.7" stroke-linejoin="miter"/>
<polygon points="152.5,402.6 148.0,408.3 152.5,414.1" fill="#7cc480"/>
<polygon points="157.0,402.6 152.5,408.3 157.0,414.1" fill="#7cc480"/>
<polygon points="158.0,402.6 164.0,408.3 158.0,414.1" fill="#fff" stroke="#222" stroke-width="0.7" stroke-linejoin="miter"/>
<polygon points="164.0,402.6 166.0,408.3 164.0,414.1" fill="#6a6464" stroke="#111" stroke-width="0.9" stroke-linejoin="miter"/>
<polygon points="172.0,402.6 168.0,408.3 172.0,414.1" fill="#7cc480"/>
<polygon points="172.0,402.6 176.6,408.3 172.0,414.1" fill="#7cc480"/>
<polygon points="176.6,402.6 181.2,408.3 176.6,414.1" fill="#7cc480"/>
<polygon points="181.2,402.6 185.8,408.3 181.2,414.1" fill="#7cc480"/>
<polygon points="185.8,402.6 190.4,408.3 185.8,414.1" fill="#7cc480"/>
<polygon points="190.4,402.6 195.0,408.3 190.4,414.1" fill="#7cc480"/>
<polygon points="199.5,402.6 195.0,408.3 199.5,414.1" fill="#fff" stroke="#222" stroke-width="0.7" stroke-linejoin="miter"/>
<polygon points="204.0,402.6 199.5,408.3 204.0,414.1" fill="#fff" stroke="#222" stroke-width="0.7" stroke-linejoin="miter"/>
<polygon points="207.0,402.6 204.0,408.3 207.0,414.1" fill="#6a6464" stroke="#111" stroke-width="0.9" stroke-linejoin="miter"/>
<polygon points="212.0,402.6 207.0,408.3 212.0,414.1" fill="#fff" stroke="#222" stroke-width="0.7" stroke-linejoin="miter"/>
<polygon points="212.0,402.6 219.0,408.3 212.0,414.1" fill="#7cc480"/>
<polygon points="219.0,402.6 223.0,408.3 219.0,414.1" fill="#f6ab35"/>
<polygon points="223.0,402.6 225.0,408.3 223.0,414.1" fill="#6a6464" stroke="#111" stroke-width="0.9" stroke-linejoin="miter"/>
<polygon points="225.0,402.6 229.0,408.3 225.0,414.1" fill="#f6ab35"/>
<polygon points="230.0,402.6 232.0,408.3 230.0,414.1" fill="#6a6464" stroke="#111" stroke-width="0.9" stroke-linejoin="miter"/>
<polygon points="232.0,402.6 237.0,408.3 232.0,414.1" fill="#f6ab35"/>
<polygon points="237.0,402.6 240.0,408.3 237.0,414.1" fill="#6a6464" stroke="#111" stroke-width="0.9" stroke-linejoin="miter"/>
<polygon points="240.0,402.6 243.0,408.3 240.0,414.1" fill="#6a6464" stroke="#111" stroke-width="0.9" stroke-linejoin="miter"/>
<polygon points="243.0,402.6 246.0,408.3 243.0,414.1" fill="#6a6464" stroke="#111" stroke-width="0.9" stroke-linejoin="miter"/>
<polygon points="246.0,402.6 252.0,408.3 246.0,414.1" fill="#f6ab35"/>
<polygon points="252.0,402.6 257.3,408.3 252.0,414.1" fill="#2a87ab"/>
<polygon points="257.3,402.6 262.7,408.3 257.3,414.1" fill="#2a87ab"/>
<polygon points="262.7,402.6 268.0,408.3 262.7,414.1" fill="#2a87ab"/>
<polygon points="268.0,402.6 271.5,408.3 268.0,414.1" fill="#fff" stroke="#222" stroke-width="0.7" stroke-linejoin="miter"/>
<polygon points="271.5,402.6 275.0,408.3 271.5,414.1" fill="#fff" stroke="#222" stroke-width="0.7" stroke-linejoin="miter"/>
<polygon points="275.0,402.6 282.0,408.3 275.0,414.1" fill="#fff" stroke="#222" stroke-width="0.7" stroke-linejoin="miter"/>
<polygon points="282.0,402.6 286.0,408.3 282.0,414.1" fill="#6a6464" stroke="#111" stroke-width="0.9" stroke-linejoin="miter"/>
<polygon points="286.0,405.6 293.0,405.6 293.0,402.6 300.0,408.3 293.0,414.1 293.0,411.1 286.0,411.1" fill="#2a87ab"/>
<polygon points="300.0,402.6 302.0,408.3 300.0,414.1" fill="#6a6464" stroke="#111" stroke-width="0.9" stroke-linejoin="miter"/>
<polygon points="302.0,402.6 305.3,408.3 302.0,414.1" fill="#fff" stroke="#222" stroke-width="0.7" stroke-linejoin="miter"/>
<polygon points="305.3,402.6 308.7,408.3 305.3,414.1" fill="#fff" stroke="#222" stroke-width="0.7" stroke-linejoin="miter"/>
<polygon points="308.7,402.6 312.0,408.3 308.7,414.1" fill="#fff" stroke="#222" stroke-width="0.7" stroke-linejoin="miter"/>
<polygon points="312.0,405.6 313.0,405.6 313.0,402.6 320.0,408.3 313.0,414.1 313.0,411.1 312.0,411.1" fill="#2a87ab"/>
<polygon points="320.0,402.6 325.5,408.3 320.0,414.1" fill="#2a87ab"/>
<polygon points="325.5,402.6 331.0,408.3 325.5,414.1" fill="#2a87ab"/>
<polygon points="331.0,402.6 336.0,408.3 331.0,414.1" fill="#6a6464" stroke="#111" stroke-width="0.9" stroke-linejoin="miter"/>
<polygon points="342.0,402.6 336.0,408.3 342.0,414.1" fill="#fff" stroke="#222" stroke-width="0.7" stroke-linejoin="miter"/>
<polygon points="342.0,402.6 346.5,408.3 342.0,414.1" fill="#2a87ab"/>
<polygon points="346.5,402.6 351.0,408.3 346.5,414.1" fill="#2a87ab"/>
<polygon points="351.0,402.6 353.0,408.3 351.0,414.1" fill="#6a6464" stroke="#111" stroke-width="0.9" stroke-linejoin="miter"/>
<polygon points="353.0,402.6 358.0,408.3 353.0,414.1" fill="#2a87ab"/>
<polygon points="358.0,402.6 363.0,408.3 358.0,414.1" fill="#2a87ab"/>
<polygon points="363.0,402.6 368.0,408.3 363.0,414.1" fill="#2a87ab"/>
<polygon points="368.0,402.6 373.0,408.3 368.0,414.1" fill="#2a87ab"/>
<polygon points="373.0,402.6 378.0,408.3 373.0,414.1" fill="#2a87ab"/>
<polygon points="378.0,402.6 381.0,408.3 378.0,414.1" fill="#6a6464" stroke="#111" stroke-width="0.9" stroke-linejoin="miter"/>
<polygon points="381.0,402.6 383.8,408.3 381.0,414.1" fill="#2a87ab"/>
<polygon points="383.8,402.6 386.7,408.3 383.8,414.1" fill="#2a87ab"/>
<polygon points="386.7,402.6 389.5,408.3 386.7,414.1" fill="#2a87ab"/>
<polygon points="389.5,402.6 392.3,408.3 389.5,414.1" fill="#2a87ab"/>
<polygon points="392.3,402.6 395.2,408.3 392.3,414.1" fill="#2a87ab"/>
<polygon points="395.2,402.6 398.0,408.3 395.2,414.1" fill="#2a87ab"/>
<polygon points="398.0,405.6 412.0,405.6 412.0,402.6 419.0,408.3 412.0,414.1 412.0,411.1 398.0,411.1" fill="#2a87ab"/>
<polygon points="419.0,402.6 422.0,408.3 419.0,414.1" fill="#fff" stroke="#222" stroke-width="0.7" stroke-linejoin="miter"/>
<polygon points="422.0,402.6 425.0,408.3 422.0,414.1" fill="#fff" stroke="#222" stroke-width="0.7" stroke-linejoin="miter"/>
<polygon points="425.0,402.6 428.0,408.3 425.0,414.1" fill="#fff" stroke="#222" stroke-width="0.7" stroke-linejoin="miter"/>
<polygon points="428.0,405.6 438.0,405.6 438.0,402.6 445.0,408.3 438.0,414.1 438.0,411.1 428.0,411.1" fill="#fff" stroke="#222" stroke-width="0.7" stroke-linejoin="miter"/>
<polygon points="445.0,405.6 451.0,405.6 451.0,402.6 458.0,408.3 451.0,414.1 451.0,411.1 445.0,411.1" fill="#fff" stroke="#222" stroke-width="0.7" stroke-linejoin="miter"/>
<line x1="112.0" y1="443.1" x2="387.0" y2="443.1" stroke="#555" stroke-width="0.6"/>
<polygon points="112.0,437.4 115.0,443.1 112.0,448.9" fill="#fff" stroke="#222" stroke-width="0.7" stroke-linejoin="miter"/>
<polygon points="115.0,437.4 118.0,443.1 115.0,448.9" fill="#fff" stroke="#222" stroke-width="0.7" stroke-linejoin="miter"/>
<polygon points="118.0,437.4 121.0,443.1 118.0,448.9" fill="#6a6464" stroke="#111" stroke-width="0.9" stroke-linejoin="miter"/>
<polygon points="126.5,437.4 122.0,443.1 126.5,448.9" fill="#7cc480"/>
<polygon points="131.0,437.4 126.5,443.1 131.0,448.9" fill="#7cc480"/>
<polygon points="132.0,437.4 131.0,443.1 132.0,448.9" fill="#6a6464" stroke="#111" stroke-width="0.9" stroke-linejoin="miter"/>
<polygon points="137.0,437.4 132.0,443.1 137.0,448.9" fill="#7cc480"/>
<polygon points="142.0,437.4 137.0,443.1 142.0,448.9" fill="#7cc480"/>
<polygon points="147.0,437.4 142.0,443.1 147.0,448.9" fill="#7cc480"/>
<polygon points="156.8,437.4 152.0,443.1 156.8,448.9" fill="#7cc480"/>
<polygon points="161.5,437.4 156.8,443.1 161.5,448.9" fill="#7cc480"/>
<polygon points="166.2,437.4 161.5,443.1 166.2,448.9" fill="#7cc480"/>
<polygon points="171.0,437.4 166.2,443.1 171.0,448.9" fill="#7cc480"/>
<polygon points="171.0,437.4 176.5,443.1 171.0,448.9" fill="#7cc480"/>
<polygon points="176.5,437.4 182.0,443.1 176.5,448.9" fill="#7cc480"/>
<polygon points="182.0,437.4 187.5,443.1 182.0,448.9" fill="#7cc480"/>
<polygon points="187.5,437.4 193.0,443.1 187.5,448.9" fill="#7cc480"/>
<polygon points="197.0,437.4 200.0,443.1 197.0,448.9" fill="#6a6464" stroke="#111" stroke-width="0.9" stroke-linejoin="miter"/>
<polygon points="200.0,437.4 202.0,443.1 200.0,448.9" fill="#6a6464" stroke="#111" stroke-width="0.9" stroke-linejoin="miter"/>
<polygon points="202.0,437.4 208.0,443.1 202.0,448.9" fill="#7cc480"/>
<polygon points="209.0,437.4 215.0,443.1 209.0,448.9" fill="#f6ab35"/>
<polygon points="218.0,437.4 221.0,443.1 218.0,448.9" fill="#6a6464" stroke="#111" stroke-width="0.9" stroke-linejoin="miter"/>
<polygon points="222.0,440.4 227.0,440.4 227.0,437.4 234.0,443.1 227.0,448.9 227.0,445.9 222.0,445.9" fill="#f6ab35"/>
<polygon points="235.0,437.4 238.3,443.1 235.0,448.9" fill="#f6ab35"/>
<polygon points="238.3,437.4 241.7,443.1 238.3,448.9" fill="#f6ab35"/>
<polygon points="241.7,437.4 245.0,443.1 241.7,448.9" fill="#f6ab35"/>
<polygon points="246.0,437.4 252.0,443.1 246.0,448.9" fill="#fff" stroke="#222" stroke-width="0.7" stroke-linejoin="miter"/>
<polygon points="252.0,440.4 257.0,440.4 257.0,437.4 264.0,443.1 257.0,448.9 257.0,445.9 252.0,445.9" fill="#2a87ab"/>
<polygon points="264.0,437.4 266.0,443.1 264.0,448.9" fill="#6a6464" stroke="#111" stroke-width="0.9" stroke-linejoin="miter"/>
<polygon points="266.0,440.4 267.0,440.4 267.0,437.4 274.0,443.1 267.0,448.9 267.0,445.9 266.0,445.9" fill="#2a87ab"/>
<polygon points="275.0,440.4 280.0,440.4 280.0,437.4 287.0,443.1 280.0,448.9 280.0,445.9 275.0,445.9" fill="#2a87ab"/>
<polygon points="288.0,437.4 291.3,443.1 288.0,448.9" fill="#2a87ab"/>
<polygon points="291.3,437.4 294.7,443.1 291.3,448.9" fill="#2a87ab"/>
<polygon points="294.7,437.4 298.0,443.1 294.7,448.9" fill="#2a87ab"/>
<polygon points="298.0,437.4 301.3,443.1 298.0,448.9" fill="#2a87ab"/>
<polygon points="301.3,437.4 304.7,443.1 301.3,448.9" fill="#2a87ab"/>
<polygon points="304.7,437.4 308.0,443.1 304.7,448.9" fill="#2a87ab"/>
<polygon points="308.0,440.4 318.0,440.4 318.0,437.4 325.0,443.1 318.0,448.9 318.0,445.9 308.0,445.9" fill="#2a87ab"/>
<polygon points="325.0,437.4 328.8,443.1 325.0,448.9" fill="#2a87ab"/>
<polygon points="328.8,437.4 332.5,443.1 328.8,448.9" fill="#2a87ab"/>
<polygon points="332.5,437.4 336.2,443.1 332.5,448.9" fill="#2a87ab"/>
<polygon points="336.2,437.4 340.0,443.1 336.2,448.9" fill="#2a87ab"/>
<polygon points="340.0,437.4 343.0,443.1 340.0,448.9" fill="#6a6464" stroke="#111" stroke-width="0.9" stroke-linejoin="miter"/>
<polygon points="344.0,440.4 362.0,440.4 362.0,437.4 369.0,443.1 362.0,448.9 362.0,445.9 344.0,445.9" fill="#2a87ab"/>
<polygon points="369.0,437.4 371.0,443.1 369.0,448.9" fill="#6a6464" stroke="#111" stroke-width="0.9" stroke-linejoin="miter"/>
<polygon points="371.0,440.4 372.0,440.4 372.0,437.4 379.0,443.1 372.0,448.9 372.0,445.9 371.0,445.9" fill="#2a87ab"/>
<polygon points="380.0,437.4 384.0,443.1 380.0,448.9" fill="#2a87ab"/>
<polygon points="384.0,437.4 387.0,443.1 384.0,448.9" fill="#6a6464" stroke="#111" stroke-width="0.9" stroke-linejoin="miter"/>
<line x1="113.0" y1="477.8" x2="402.0" y2="477.8" stroke="#555" stroke-width="0.6"/>
<polygon points="122.0,475.1 120.0,475.1 120.0,472.1 113.0,477.8 120.0,483.6 120.0,480.6 122.0,480.6" fill="#7cc480"/>
<polygon points="126.0,472.1 122.0,477.8 126.0,483.6" fill="#fff" stroke="#222" stroke-width="0.7" stroke-linejoin="miter"/>
<polygon points="130.0,472.1 126.0,477.8 130.0,483.6" fill="#6a6464" stroke="#111" stroke-width="0.9" stroke-linejoin="miter"/>
<polygon points="136.0,472.1 132.0,477.8 136.0,483.6" fill="#6a6464" stroke="#111" stroke-width="0.9" stroke-linejoin="miter"/>
<polygon points="142.0,472.1 136.0,477.8 142.0,483.6" fill="#7cc480"/>
<polygon points="155.0,475.1 150.0,475.1 150.0,472.1 143.0,477.8 150.0,483.6 150.0,480.6 155.0,480.6" fill="#7cc480"/>
<polygon points="155.0,472.1 160.0,477.8 155.0,483.6" fill="#fff" stroke="#222" stroke-width="0.7" stroke-linejoin="miter"/>
<polygon points="165.0,472.1 161.0,477.8 165.0,483.6" fill="#7cc480"/>
<polygon points="167.0,472.1 165.0,477.8 167.0,483.6" fill="#6a6464" stroke="#111" stroke-width="0.9" stroke-linejoin="miter"/>
<polygon points="173.0,472.1 167.0,477.8 173.0,483.6" fill="#7cc480"/>
<polygon points="177.5,472.1 173.0,477.8 177.5,483.6" fill="#7cc480"/>
<polygon points="182.0,472.1 177.5,477.8 182.0,483.6" fill="#7cc480"/>
<polygon points="188.0,472.1 182.0,477.8 188.0,483.6" fill="#fff" stroke="#222" stroke-width="0.7" stroke-linejoin="miter"/>
<polygon points="193.0,472.1 188.0,477.8 193.0,483.6" fill="#6a6464" stroke="#111" stroke-width="0.9" stroke-linejoin="miter"/>
<polygon points="199.0,472.1 194.0,477.8 199.0,483.6" fill="#7cc480"/>
<polygon points="199.0,475.1 207.0,475.1 207.0,472.1 214.0,477.8 207.0,483.6 207.0,480.6 199.0,480.6" fill="#fff" stroke="#222" stroke-width="0.7" stroke-linejoin="miter"/>
<polygon points="215.0,472.1 220.0,477.8 215.0,483.6" fill="#6a6464" stroke="#111" stroke-width="0.9" stroke-linejoin="miter"/>
<polygon points="220.0,472.1 227.0,477.8 220.0,483.6" fill="#f6ab35"/>
<polygon points="229.0,472.1 232.0,477.8 229.0,483.6" fill="#6a6464" stroke="#111" stroke-width="0.9" stroke-linejoin="miter"/>
<polygon points="233.0,475.1 238.0,475.1 238.0,472.1 245.0,477.8 238.0,483.6 238.0,480.6 233.0,480.6" fill="#fff" stroke="#222" stroke-width="0.7" stroke-linejoin="miter"/>
<polygon points="246.0,472.1 249.7,477.8 246.0,483.6" fill="#f6ab35"/>
<polygon points="249.7,472.1 253.3,477.8 249.7,483.6" fill="#f6ab35"/>
<polygon points="253.3,472.1 257.0,477.8 253.3,483.6" fill="#f6ab35"/>
<polygon points="258.0,472.1 261.0,477.8 258.0,483.6" fill="#fff" stroke="#222" stroke-width="0.7" stroke-linejoin="miter"/>
<polygon points="262.0,475.1 268.0,475.1 268.0,472.1 275.0,477.8 268.0,483.6 268.0,480.6 262.0,480.6" fill="#2a87ab"/>
<polygon points="275.0,472.1 278.0,477.8 275.0,483.6" fill="#6a6464" stroke="#111" stroke-width="0.9" stroke-linejoin="miter"/>
<polygon points="278.0,475.1 279.0,475.1 279.0,472.1 286.0,477.8 279.0,483.6 279.0,480.6 278.0,480.6" fill="#2a87ab"/>
<polygon points="286.0,475.1 291.0,475.1 291.0,472.1 298.0,477.8 291.0,483.6 291.0,480.6 286.0,480.6" fill="#2a87ab"/>
<polygon points="299.0,472.1 301.0,477.8 299.0,483.6" fill="#6a6464" stroke="#111" stroke-width="0.9" stroke-linejoin="miter"/>
<polygon points="301.0,472.1 306.7,477.8 301.0,483.6" fill="#2a87ab"/>
<polygon points="306.7,472.1 312.3,477.8 306.7,483.6" fill="#2a87ab"/>
<polygon points="312.3,472.1 318.0,477.8 312.3,483.6" fill="#2a87ab"/>
<polygon points="318.0,475.1 328.0,475.1 328.0,472.1 335.0,477.8 328.0,483.6 328.0,480.6 318.0,480.6" fill="#2a87ab"/>
<polygon points="335.0,472.1 340.0,477.8 335.0,483.6" fill="#2a87ab"/>
<polygon points="340.0,472.1 345.0,477.8 340.0,483.6" fill="#2a87ab"/>
<polygon points="345.0,472.1 350.0,477.8 345.0,483.6" fill="#2a87ab"/>
<polygon points="350.0,472.1 353.0,477.8 350.0,483.6" fill="#6a6464" stroke="#111" stroke-width="0.9" stroke-linejoin="miter"/>
<polygon points="353.0,475.1 366.0,475.1 366.0,472.1 373.0,477.8 366.0,483.6 366.0,480.6 353.0,480.6" fill="#2a87ab"/>
<polygon points="373.0,472.1 375.0,477.8 373.0,483.6" fill="#6a6464" stroke="#111" stroke-width="0.9" stroke-linejoin="miter"/>
<polygon points="375.0,472.1 380.5,477.8 375.0,483.6" fill="#2a87ab"/>
<polygon points="380.5,472.1 386.0,477.8 380.5,483.6" fill="#2a87ab"/>
<polygon points="386.0,472.1 392.0,477.8 386.0,483.6" fill="#2a87ab"/>
<polygon points="392.0,472.1 394.0,477.8 392.0,483.6" fill="#6a6464" stroke="#111" stroke-width="0.9" stroke-linejoin="miter"/>
<polygon points="402.0,475.1 401.0,475.1 401.0,472.1 394.0,477.8 401.0,483.6 401.0,480.6 402.0,480.6" fill="#fff" stroke="#222" stroke-width="0.7" stroke-linejoin="miter"/>
<line x1="113.0" y1="512.5" x2="400.0" y2="512.5" stroke="#555" stroke-width="0.6"/>
<polygon points="122.0,509.8 120.0,509.8 120.0,506.8 113.0,512.5 120.0,518.2 120.0,515.2 122.0,515.2" fill="#7cc480"/>
<polygon points="126.0,506.8 122.0,512.5 126.0,518.2" fill="#fff" stroke="#222" stroke-width="0.7" stroke-linejoin="miter"/>
<polygon points="130.0,506.8 126.0,512.5 130.0,518.2" fill="#6a6464" stroke="#111" stroke-width="0.9" stroke-linejoin="miter"/>
<polygon points="137.0,506.8 132.0,512.5 137.0,518.2" fill="#6a6464" stroke="#111" stroke-width="0.9" stroke-linejoin="miter"/>
<polygon points="150.0,509.8 145.0,509.8 145.0,506.8 138.0,512.5 145.0,518.2 145.0,515.2 150.0,515.2" fill="#7cc480"/>
<polygon points="150.0,506.8 155.0,512.5 150.0,518.2" fill="#fff" stroke="#222" stroke-width="0.7" stroke-linejoin="miter"/>
<polygon points="160.0,506.8 155.0,512.5 160.0,518.2" fill="#fff" stroke="#222" stroke-width="0.7" stroke-linejoin="miter"/>
<polygon points="167.5,506.8 162.0,512.5 167.5,518.2" fill="#7cc480"/>
<polygon points="173.0,506.8 167.5,512.5 173.0,518.2" fill="#7cc480"/>
<polygon points="179.0,506.8 173.0,512.5 179.0,518.2" fill="#7cc480"/>
<polygon points="183.0,506.8 179.0,512.5 183.0,518.2" fill="#fff" stroke="#222" stroke-width="0.7" stroke-linejoin="miter"/>
<polygon points="187.0,506.8 183.0,512.5 187.0,518.2" fill="#6a6464" stroke="#111" stroke-width="0.9" stroke-linejoin="miter"/>
<polygon points="190.0,506.8 187.0,512.5 190.0,518.2" fill="#fff" stroke="#222" stroke-width="0.7" stroke-linejoin="miter"/>
<polygon points="193.0,506.8 190.0,512.5 193.0,518.2" fill="#fff" stroke="#222" stroke-width="0.7" stroke-linejoin="miter"/>
<polygon points="197.0,506.8 193.0,512.5 197.0,518.2" fill="#6a6464" stroke="#111" stroke-width="0.9" stroke-linejoin="miter"/>
<polygon points="199.0,509.8 203.0,509.8 203.0,506.8 210.0,512.5 203.0,518.2 203.0,515.2 199.0,515.2" fill="#7cc480"/>
<polygon points="211.0,506.8 216.0,512.5 211.0,518.2" fill="#6a6464" stroke="#111" stroke-width="0.9" stroke-linejoin="miter"/>
<polygon points="217.0,506.8 224.0,512.5 217.0,518.2" fill="#f6ab35"/>
<polygon points="224.0,506.8 227.0,512.5 224.0,518.2" fill="#6a6464" stroke="#111" stroke-width="0.9" stroke-linejoin="miter"/>
<polygon points="228.0,509.8 233.0,509.8 233.0,506.8 240.0,512.5 233.0,518.2 233.0,515.2 228.0,515.2" fill="#f6ab35"/>
<polygon points="241.0,506.8 243.0,512.5 241.0,518.2" fill="#6a6464" stroke="#111" stroke-width="0.9" stroke-linejoin="miter"/>
<polygon points="243.0,506.8 248.0,512.5 243.0,518.2" fill="#f6ab35"/>
<polygon points="248.0,506.8 251.0,512.5 248.0,518.2" fill="#fff" stroke="#222" stroke-width="0.7" stroke-linejoin="miter"/>
<polygon points="251.0,506.8 254.0,512.5 251.0,518.2" fill="#f6ab35"/>
<polygon points="255.0,506.8 257.0,512.5 255.0,518.2" fill="#6a6464" stroke="#111" stroke-width="0.9" stroke-linejoin="miter"/>
<polygon points="257.0,506.8 260.0,512.5 257.0,518.2" fill="#2a87ab"/>
<polygon points="261.0,509.8 262.0,509.8 262.0,506.8 269.0,512.5 262.0,518.2 262.0,515.2 261.0,515.2" fill="#2a87ab"/>
<polygon points="269.0,509.8 270.0,509.8 270.0,506.8 277.0,512.5 270.0,518.2 270.0,515.2 269.0,515.2" fill="#2a87ab"/>
<polygon points="278.0,509.8 282.0,509.8 282.0,506.8 289.0,512.5 282.0,518.2 282.0,515.2 278.0,515.2" fill="#2a87ab"/>
<polygon points="290.0,506.8 292.0,512.5 290.0,518.2" fill="#6a6464" stroke="#111" stroke-width="0.9" stroke-linejoin="miter"/>
<polygon points="292.0,509.8 293.0,509.8 293.0,506.8 300.0,512.5 293.0,518.2 293.0,515.2 292.0,515.2" fill="#2a87ab"/>
<polygon points="301.0,506.8 307.0,512.5 301.0,518.2" fill="#2a87ab"/>
<polygon points="307.0,506.8 309.0,512.5 307.0,518.2" fill="#6a6464" stroke="#111" stroke-width="0.9" stroke-linejoin="miter"/>
<polygon points="309.0,506.8 314.7,512.5 309.0,518.2" fill="#2a87ab"/>
<polygon points="314.7,506.8 320.3,512.5 314.7,518.2" fill="#2a87ab"/>
<polygon points="320.3,506.8 326.0,512.5 320.3,518.2" fill="#2a87ab"/>
<polygon points="326.0,509.8 331.0,509.8 331.0,506.8 338.0,512.5 331.0,518.2 331.0,515.2 326.0,515.2" fill="#2a87ab"/>
<polygon points="338.0,506.8 343.5,512.5 338.0,518.2" fill="#2a87ab"/>
<polygon points="343.5,506.8 349.0,512.5 343.5,518.2" fill="#2a87ab"/>
<polygon points="349.0,506.8 354.5,512.5 349.0,518.2" fill="#2a87ab"/>
<polygon points="354.5,506.8 360.0,512.5 354.5,518.2" fill="#2a87ab"/>
<polygon points="360.0,506.8 361.0,512.5 360.0,518.2" fill="#6a6464" stroke="#111" stroke-width="0.9" stroke-linejoin="miter"/>
<polygon points="361.0,509.8 375.0,509.8 375.0,506.8 382.0,512.5 375.0,518.2 375.0,515.2 361.0,515.2" fill="#2a87ab"/>
<polygon points="384.0,506.8 385.0,512.5 384.0,518.2" fill="#6a6464" stroke="#111" stroke-width="0.9" stroke-linejoin="miter"/>
<polygon points="385.0,509.8 387.0,509.8 387.0,506.8 394.0,512.5 387.0,518.2 387.0,515.2 385.0,515.2" fill="#2a87ab"/>
<polygon points="394.0,506.8 400.0,512.5 394.0,518.2" fill="#2a87ab"/>
<line x1="113.0" y1="546.9" x2="412.0" y2="546.9" stroke="#555" stroke-width="0.6"/>
<polygon points="122.0,544.1 120.0,544.1 120.0,541.1 113.0,546.9 120.0,552.6 120.0,549.6 122.0,549.6" fill="#7cc480"/>
<polygon points="126.0,541.1 122.0,546.9 126.0,552.6" fill="#fff" stroke="#222" stroke-width="0.7" stroke-linejoin="miter"/>
<polygon points="130.0,541.1 126.0,546.9 130.0,552.6" fill="#6a6464" stroke="#111" stroke-width="0.9" stroke-linejoin="miter"/>
<polygon points="137.0,541.1 132.0,546.9 137.0,552.6" fill="#6a6464" stroke="#111" stroke-width="0.9" stroke-linejoin="miter"/>
<polygon points="150.0,544.1 145.0,544.1 145.0,541.1 138.0,546.9 145.0,552.6 145.0,549.6 150.0,549.6" fill="#7cc480"/>
<polygon points="150.0,541.1 155.0,546.9 150.0,552.6" fill="#fff" stroke="#222" stroke-width="0.7" stroke-linejoin="miter"/>
<polygon points="160.0,541.1 155.0,546.9 160.0,552.6" fill="#fff" stroke="#222" stroke-width="0.7" stroke-linejoin="miter"/>
<polygon points="167.5,541.1 162.0,546.9 167.5,552.6" fill="#7cc480"/>
<polygon points="173.0,541.1 167.5,546.9 173.0,552.6" fill="#7cc480"/>
<polygon points="179.0,541.1 173.0,546.9 179.0,552.6" fill="#7cc480"/>
<polygon points="183.0,541.1 179.0,546.9 183.0,552.6" fill="#fff" stroke="#222" stroke-width="0.7" stroke-linejoin="miter"/>
<polygon points="187.0,541.1 183.0,546.9 187.0,552.6" fill="#6a6464" stroke="#111" stroke-width="0.9" stroke-linejoin="miter"/>
<polygon points="190.0,541.1 187.0,546.9 190.0,552.6" fill="#fff" stroke="#222" stroke-width="0.7" stroke-linejoin="miter"/>
<polygon points="193.0,541.1 190.0,546.9 193.0,552.6" fill="#fff" stroke="#222" stroke-width="0.7" stroke-linejoin="miter"/>
<polygon points="197.0,541.1 193.0,546.9 197.0,552.6" fill="#6a6464" stroke="#111" stroke-width="0.9" stroke-linejoin="miter"/>
<polygon points="199.0,544.1 203.0,544.1 203.0,541.1 210.0,546.9 203.0,552.6 203.0,549.6 199.0,549.6" fill="#7cc480"/>
<polygon points="211.0,541.1 216.0,546.9 211.0,552.6" fill="#6a6464" stroke="#111" stroke-width="0.9" stroke-linejoin="miter"/>
<polygon points="217.0,541.1 224.0,546.9 217.0,552.6" fill="#f6ab35"/>
<polygon points="224.0,541.1 227.0,546.9 224.0,552.6" fill="#6a6464" stroke="#111" stroke-width="0.9" stroke-linejoin="miter"/>
<polygon points="228.0,544.1 233.0,544.1 233.0,541.1 240.0,546.9 233.0,552.6 233.0,549.6 228.0,549.6" fill="#f6ab35"/>
<polygon points="241.0,541.1 243.0,546.9 241.0,552.6" fill="#6a6464" stroke="#111" stroke-width="0.9" stroke-linejoin="miter"/>
<polygon points="243.0,541.1 248.0,546.9 243.0,552.6" fill="#f6ab35"/>
<polygon points="248.0,541.1 251.0,546.9 248.0,552.6" fill="#fff" stroke="#222" stroke-width="0.7" stroke-linejoin="miter"/>
<polygon points="251.0,541.1 254.0,546.9 251.0,552.6" fill="#f6ab35"/>
<polygon points="255.0,541.1 257.0,546.9 255.0,552.6" fill="#6a6464" stroke="#111" stroke-width="0.9" stroke-linejoin="miter"/>
<polygon points="257.0,541.1 260.0,546.9 257.0,552.6" fill="#2a87ab"/>
<polygon points="261.0,544.1 262.0,544.1 262.0,541.1 269.0,546.9 262.0,552.6 262.0,549.6 261.0,549.6" fill="#2a87ab"/>
<polygon points="269.0,544.1 270.0,544.1 270.0,541.1 277.0,546.9 270.0,552.6 270.0,549.6 269.0,549.6" fill="#2a87ab"/>
<polygon points="278.0,544.1 282.0,544.1 282.0,541.1 289.0,546.9 282.0,552.6 282.0,549.6 278.0,549.6" fill="#2a87ab"/>
<polygon points="290.0,541.1 292.0,546.9 290.0,552.6" fill="#6a6464" stroke="#111" stroke-width="0.9" stroke-linejoin="miter"/>
<polygon points="292.0,544.1 293.0,544.1 293.0,541.1 300.0,546.9 293.0,552.6 293.0,549.6 292.0,549.6" fill="#2a87ab"/>
<polygon points="301.0,541.1 307.0,546.9 301.0,552.6" fill="#2a87ab"/>
<polygon points="307.0,541.1 309.0,546.9 307.0,552.6" fill="#6a6464" stroke="#111" stroke-width="0.9" stroke-linejoin="miter"/>
<polygon points="309.0,541.1 314.7,546.9 309.0,552.6" fill="#2a87ab"/>
<polygon points="314.7,541.1 320.3,546.9 314.7,552.6" fill="#2a87ab"/>
<polygon points="320.3,541.1 326.0,546.9 320.3,552.6" fill="#2a87ab"/>
<polygon points="326.0,544.1 337.0,544.1 337.0,541.1 344.0,546.9 337.0,552.6 337.0,549.6 326.0,549.6" fill="#2a87ab"/>
<polygon points="344.0,541.1 349.3,546.9 344.0,552.6" fill="#2a87ab"/>
<polygon points="349.3,541.1 354.7,546.9 349.3,552.6" fill="#2a87ab"/>
<polygon points="354.7,541.1 360.0,546.9 354.7,552.6" fill="#2a87ab"/>
<polygon points="360.0,541.1 361.0,546.9 360.0,552.6" fill="#6a6464" stroke="#111" stroke-width="0.9" stroke-linejoin="miter"/>
<polygon points="361.0,544.1 377.0,544.1 377.0,541.1 384.0,546.9 377.0,552.6 377.0,549.6 361.0,549.6" fill="#2a87ab"/>
<polygon points="385.0,541.1 387.0,546.9 385.0,552.6" fill="#6a6464" stroke="#111" stroke-width="0.9" stroke-linejoin="miter"/>
<polygon points="388.0,541.1 395.0,546.9 388.0,552.6" fill="#2a87ab"/>
<polygon points="396.0,541.1 398.5,546.9 396.0,552.6" fill="#2a87ab"/>
<polygon points="398.5,541.1 401.0,546.9 398.5,552.6" fill="#2a87ab"/>
<polygon points="401.0,541.1 405.0,546.9 401.0,552.6" fill="#6a6464" stroke="#111" stroke-width="0.9" stroke-linejoin="miter"/>
<polygon points="412.0,541.1 406.0,546.9 412.0,552.6" fill="#2a87ab"/>
<line x1="113.0" y1="580.2" x2="423.0" y2="580.2" stroke="#555" stroke-width="0.6"/>
<polygon points="122.0,577.5 120.0,577.5 120.0,574.5 113.0,580.2 120.0,586.0 120.0,583.0 122.0,583.0" fill="#7cc480"/>
<polygon points="136.0,577.5 130.0,577.5 130.0,574.5 123.0,580.2 130.0,586.0 130.0,583.0 136.0,583.0" fill="#7cc480"/>
<polygon points="136.0,574.5 141.0,580.2 136.0,586.0" fill="#fff" stroke="#222" stroke-width="0.7" stroke-linejoin="miter"/>
<polygon points="146.0,574.5 141.0,580.2 146.0,586.0" fill="#fff" stroke="#222" stroke-width="0.7" stroke-linejoin="miter"/>
<polygon points="155.0,577.5 154.0,577.5 154.0,574.5 147.0,580.2 154.0,586.0 154.0,583.0 155.0,583.0" fill="#7cc480"/>
<polygon points="155.0,574.5 159.7,580.2 155.0,586.0" fill="#7cc480"/>
<polygon points="159.7,574.5 164.3,580.2 159.7,586.0" fill="#7cc480"/>
<polygon points="164.3,574.5 169.0,580.2 164.3,586.0" fill="#7cc480"/>
<polygon points="170.0,574.5 174.0,580.2 170.0,586.0" fill="#fff" stroke="#222" stroke-width="0.7" stroke-linejoin="miter"/>
<polygon points="174.0,574.5 179.0,580.2 174.0,586.0" fill="#6a6464" stroke="#111" stroke-width="0.9" stroke-linejoin="miter"/>
<polygon points="179.0,577.5 180.0,577.5 180.0,574.5 187.0,580.2 180.0,586.0 180.0,583.0 179.0,583.0" fill="#7cc480"/>
<polygon points="187.0,574.5 189.0,580.2 187.0,586.0" fill="#6a6464" stroke="#111" stroke-width="0.9" stroke-linejoin="miter"/>
<polygon points="192.0,574.5 198.0,580.2 192.0,586.0" fill="#fff" stroke="#222" stroke-width="0.7" stroke-linejoin="miter"/>
<polygon points="198.0,577.5 199.0,577.5 199.0,574.5 206.0,580.2 199.0,586.0 199.0,583.0 198.0,583.0" fill="#7cc480"/>
<polygon points="207.0,574.5 209.0,580.2 207.0,586.0" fill="#6a6464" stroke="#111" stroke-width="0.9" stroke-linejoin="miter"/>
<polygon points="209.0,574.5 213.5,580.2 209.0,586.0" fill="#7cc480"/>
<polygon points="213.5,574.5 218.0,580.2 213.5,586.0" fill="#7cc480"/>
<polygon points="218.0,577.5 219.0,577.5 219.0,574.5 226.0,580.2 219.0,586.0 219.0,583.0 218.0,583.0" fill="#f6ab35"/>
<polygon points="226.0,574.5 228.0,580.2 226.0,586.0" fill="#6a6464" stroke="#111" stroke-width="0.9" stroke-linejoin="miter"/>
<polygon points="228.0,574.5 230.0,580.2 228.0,586.0" fill="#f6ab35"/>
<polygon points="231.0,577.5 236.0,577.5 236.0,574.5 243.0,580.2 236.0,586.0 236.0,583.0 231.0,583.0" fill="#fff" stroke="#222" stroke-width="0.7" stroke-linejoin="miter"/>
<polygon points="244.0,574.5 246.0,580.2 244.0,586.0" fill="#6a6464" stroke="#111" stroke-width="0.9" stroke-linejoin="miter"/>
<polygon points="246.0,574.5 248.5,580.2 246.0,586.0" fill="#f6ab35"/>
<polygon points="248.5,574.5 251.0,580.2 248.5,586.0" fill="#f6ab35"/>
<polygon points="251.0,574.5 256.0,580.2 251.0,586.0" fill="#fff" stroke="#222" stroke-width="0.7" stroke-linejoin="miter"/>
<polygon points="256.0,574.5 260.0,580.2 256.0,586.0" fill="#f6ab35"/>
<polygon points="261.0,574.5 264.0,580.2 261.0,586.0" fill="#6a6464" stroke="#111" stroke-width="0.9" stroke-linejoin="miter"/>
<polygon points="266.0,574.5 273.0,580.2 266.0,586.0" fill="#2a87ab"/>
<polygon points="273.0,574.5 280.0,580.2 273.0,586.0" fill="#2a87ab"/>
<polygon points="281.0,574.5 283.0,580.2 281.0,586.0" fill="#6a6464" stroke="#111" stroke-width="0.9" stroke-linejoin="miter"/>
<polygon points="284.0,577.5 289.0,577.5 289.0,574.5 296.0,580.2 289.0,586.0 289.0,583.0 284.0,583.0" fill="#2a87ab"/>
<polygon points="297.0,574.5 303.5,580.2 297.0,586.0" fill="#2a87ab"/>
<polygon points="303.5,574.5 310.0,580.2 303.5,586.0" fill="#2a87ab"/>
<polygon points="310.0,574.5 315.0,580.2 310.0,586.0" fill="#2a87ab"/>
<polygon points="315.0,574.5 320.0,580.2 315.0,586.0" fill="#2a87ab"/>
<polygon points="320.0,574.5 324.7,580.2 320.0,586.0" fill="#2a87ab"/>
<polygon points="324.7,574.5 329.3,580.2 324.7,586.0" fill="#2a87ab"/>
<polygon points="329.3,574.5 334.0,580.2 329.3,586.0" fill="#2a87ab"/>
<polygon points="334.0,574.5 338.7,580.2 334.0,586.0" fill="#2a87ab"/>
<polygon points="338.7,574.5 343.3,580.2 338.7,586.0" fill="#2a87ab"/>
<polygon points="343.3,574.5 348.0,580.2 343.3,586.0" fill="#2a87ab"/>
<polygon points="350.0,577.5 359.0,577.5 359.0,574.5 366.0,580.2 359.0,586.0 359.0,583.0 350.0,583.0" fill="#2a87ab"/>
<polygon points="366.0,574.5 371.3,580.2 366.0,586.0" fill="#2a87ab"/>
<polygon points="371.3,574.5 376.7,580.2 371.3,586.0" fill="#2a87ab"/>
<polygon points="376.7,574.5 382.0,580.2 376.7,586.0" fill="#2a87ab"/>
<polygon points="382.0,574.5 383.0,580.2 382.0,586.0" fill="#6a6464" stroke="#111" stroke-width="0.9" stroke-linejoin="miter"/>
<polygon points="384.0,577.5 397.0,577.5 397.0,574.5 404.0,580.2 397.0,586.0 397.0,583.0 384.0,583.0" fill="#2a87ab"/>
<polygon points="404.0,574.5 406.0,580.2 404.0,586.0" fill="#6a6464" stroke="#111" stroke-width="0.9" stroke-linejoin="miter"/>
<polygon points="406.0,574.5 411.7,580.2 406.0,586.0" fill="#2a87ab"/>
<polygon points="411.7,574.5 417.3,580.2 411.7,586.0" fill="#2a87ab"/>
<polygon points="417.3,574.5 423.0,580.2 417.3,586.0" fill="#2a87ab"/>
<g font-family="Liberation Serif, serif" font-size="10">
<text x="113.5" y="110.5" fill="#7cc480" transform="rotate(-60 113.5 110.5)">Integrase</text>
<text x="122.5" y="110.5" fill="#7cc480" transform="rotate(-60 122.5 110.5)">Exonuclease</text>
<text x="132.5" y="110.5" fill="#7cc480" transform="rotate(-60 132.5 110.5)">Recombination</text>
<text x="147.5" y="110.5" fill="#7cc480" transform="rotate(-60 147.5 110.5)">Exodeoxyribonuclease VIII</text>
<text x="167.5" y="110.5" fill="#7cc480" transform="rotate(-60 167.5 110.5)">Antitermination N</text>
<text x="177.5" y="110.5" fill="#7cc480" transform="rotate(-60 177.5 110.5)">Repressor CI</text>
<text x="185.5" y="110.5" fill="#7cc480" transform="rotate(-60 185.5 110.5)">Activator CII</text>
<text x="194.5" y="110.5" fill="#7cc480" transform="rotate(-60 194.5 110.5)">Replication O</text>
<text x="194.5" y="110.5" fill="#7cc480" transform="rotate(-60 194.5 110.5)">Replication P</text>
<text x="201.5" y="110.5" fill="#7cc480" transform="rotate(-60 201.5 110.5)">Replication helicase</text>
<text x="211.5" y="110.5" fill="#7cc480" transform="rotate(-60 211.5 110.5)">Antirepressor</text>
<text x="221.0" y="110.5" fill="#7cc480" transform="rotate(-60 221.0 110.5)">Recombination NinB</text>
<text x="229.5" y="110.5" fill="#7cc480" transform="rotate(-60 229.5 110.5)">Endodeoxyribonuclease</text>
<text x="237.0" y="110.5" fill="#7cc480" transform="rotate(-60 237.0 110.5)">Antitermination Q</text>
<text x="245.5" y="110.5" fill="#f6ab35" transform="rotate(-60 245.5 110.5)">Shiga toxin</text>
<text x="266.5" y="110.5" fill="#f6ab35" transform="rotate(-60 266.5 110.5)">Holin</text>
<text x="273.5" y="111.5" fill="#f6ab35" transform="rotate(-60 273.5 111.5)">Lysozyme R</text>
<text x="280.5" y="111.5" fill="#f6ab35" transform="rotate(-60 280.5 111.5)">Endopeptidase Rz</text>
<text x="290.5" y="110.5" fill="#2a87ab" transform="rotate(-60 290.5 110.5)">Terminase large subunit</text>
<text x="304.5" y="110.5" fill="#2a87ab" transform="rotate(-60 304.5 110.5)">DNA packaging</text>
<text x="318.5" y="110.5" fill="#2a87ab" transform="rotate(-60 318.5 110.5)">Terminase large subunit</text>
<text x="342.5" y="110.5" fill="#2a87ab" transform="rotate(-60 342.5 110.5)">Phage tail fiber</text>
<text x="356.5" y="110.5" fill="#2a87ab" transform="rotate(-60 356.5 110.5)">Phage tail fiber GpG</text>
<text x="370.5" y="110.5" fill="#2a87ab" transform="rotate(-60 370.5 110.5)">Envelope protein Lom</text>
<text x="384.5" y="110.5" fill="#2a87ab" transform="rotate(-60 384.5 110.5)">Terminase large subunit</text>
<text x="485.5" y="109.5" fill="#2a87ab" transform="rotate(-60 485.5 109.5)">Phage ea22 protein</text>
<text x="507.5" y="109.5" fill="#2a87ab" transform="rotate(-60 507.5 109.5)">Phage antirepressor</text>
</g>
<g font-family="Liberation Serif, serif" font-weight="bold">
<text x="59" y="124" font-size="11.3" fill="#4a2f8c">STEC1589</text>
<text x="59" y="134" font-size="10" fill="#1a1a1a" letter-spacing="0.4">Stx1c</text>
<text x="59" y="159" font-size="11.3" fill="#4a2f8c">STEC438</text>
<text x="59" y="169" font-size="10" fill="#1a1a1a" letter-spacing="0.4">Stx1c</text>
<text x="59" y="195" font-size="11.3" fill="#4a2f8c">STEC1586</text>
<text x="59" y="205" font-size="10" fill="#1a1a1a" letter-spacing="0.4">Stx1c</text>
<text x="59" y="232" font-size="11.3" fill="#4a2f8c">STEC1590</text>
<text x="59" y="242" font-size="10" fill="#1a1a1a" letter-spacing="0.4">Stx1c</text>
<text x="59" y="270" font-size="11.3" fill="#4a2f8c">STEC1585</text>
<text x="59" y="280" font-size="10" fill="#1a1a1a" letter-spacing="0.4">Stx1c</text>
<text x="59" y="305" font-size="11.3" fill="#4a2f8c">STEC1588</text>
<text x="59" y="315" font-size="10" fill="#1a1a1a" letter-spacing="0.4">Stx1a</text>
<text x="59" y="339.5" font-size="11.3" fill="#4a2f8c">STEC1587</text>
<text x="59" y="349.5" font-size="10" fill="#1a1a1a" letter-spacing="0.4">Stx1a</text>
<text x="59" y="374.6" font-size="11.3" fill="#4a2f8c">STEC435</text>
<text x="59" y="384.6" font-size="10" fill="#1a1a1a" letter-spacing="0.4">Stx1a</text>
<text x="59" y="411.7" font-size="11.3" fill="#4a2f8c">STEC509</text>
<text x="59" y="421.7" font-size="10" fill="#1a1a1a" letter-spacing="0.4">Stx2e</text>
<text x="59" y="445.5" font-size="11.3" fill="#4a2f8c">STEC1588</text>
<text x="59" y="455.5" font-size="10" fill="#1a1a1a" letter-spacing="0.4">Stx2a</text>
<text x="59" y="479.8" font-size="11.3" fill="#4a2f8c">STEC435</text>
<text x="59" y="489.8" font-size="10" fill="#1a1a1a" letter-spacing="0.4">Stx2b</text>
<text x="59" y="515.6" font-size="11.3" fill="#4a2f8c">STEC1586</text>
<text x="59" y="525.6" font-size="10" fill="#1a1a1a" letter-spacing="0.4">Stx2b</text>
<text x="59" y="550" font-size="11.3" fill="#4a2f8c">STEC1590</text>
<text x="59" y="560" font-size="10" fill="#1a1a1a" letter-spacing="0.4">Stx2b</text>
<text x="59" y="584" font-size="11.3" fill="#4a2f8c">STEC434</text>
<text x="59" y="594" font-size="10" fill="#1a1a1a" letter-spacing="0.4">Stx2d</text>
<text x="53.2" y="304.5" font-size="11" fill="#4a2f8c">*</text>
<text x="9" y="185" font-size="12.8" font-style="italic" fill="#111">dmsB</text>
<path d="M52 121.5 C48.0 122.5 48.5 125.5 48.5 129.5 L48.5 178.5 C48.5 181.0 47.0 182.5 45 182.5 C47.0 182.5 48.5 184.0 48.5 186.5 L48.5 235.5 C48.5 239.5 48.0 242.5 52 243.5" fill="none" stroke="#111" stroke-width="1.3"/>
<text x="9" y="274" font-size="12.8" font-style="italic" fill="#111">wrbA</text>
<path d="M52 255 C48.0 256 48.5 259 48.5 263 L48.5 265.3 C48.5 267.8 47.0 269.3 45 269.3 C47.0 269.3 48.5 270.8 48.5 273.3 L48.5 275.6 C48.5 279.6 48.0 282.6 52 283.6" fill="none" stroke="#111" stroke-width="1.3"/>
<text x="9" y="347" font-size="12.8" font-style="italic" fill="#111">potC</text>
<path d="M52 328 C48.0 329 48.5 332 48.5 336 L48.5 337.8 C48.5 340.3 47.0 341.8 45 341.8 C47.0 341.8 48.5 343.3 48.5 345.8 L48.5 347.6 C48.5 351.6 48.0 354.6 52 355.6" fill="none" stroke="#111" stroke-width="1.3"/>
<text x="9" y="398.6" font-size="12.8" font-style="italic" fill="#111">yecE</text>
<path d="M52 372.5 C48.0 373.5 48.5 376.5 48.5 380.5 L48.5 391.95 C48.5 394.45 47.0 395.95 45 395.95 C47.0 395.95 48.5 397.45 48.5 399.95 L48.5 411.4 C48.5 415.4 48.0 418.4 52 419.4" fill="none" stroke="#111" stroke-width="1.3"/>
<text x="9" y="448.8" font-size="12.8" font-style="italic" fill="#111">dusA</text>
<path d="M52 433.5 C48.0 434.5 48.5 437.5 48.5 441.5 L48.5 443.15 C48.5 445.65 47.0 447.15 45 447.15 C47.0 447.15 48.5 448.65 48.5 451.15 L48.5 452.8 C48.5 456.8 48.0 459.8 52 460.8" fill="none" stroke="#111" stroke-width="1.3"/>
<text x="9" y="519.5" font-size="12.8" font-style="italic" fill="#111">yfhL</text>
<path d="M52 473.7 C48.0 474.7 48.5 477.7 48.5 481.7 L48.5 511.70000000000005 C48.5 514.2 47.0 515.7 45 515.7 C47.0 515.7 48.5 517.2 48.5 519.7 L48.5 549.7 C48.5 553.7 48.0 556.7 52 557.7" fill="none" stroke="#111" stroke-width="1.3"/>
<text x="9" y="584" font-size="12.8" font-style="italic" fill="#111">yccA</text>
<path d="M52 570.8 C48.0 571.8 48.5 574.8 48.5 578.8 L48.5 580.4 C48.5 582.9 47.0 584.4 45 584.4 C47.0 584.4 48.5 585.9 48.5 588.4 L48.5 590 C48.5 594 48.0 597 52 598" fill="none" stroke="#111" stroke-width="1.3"/>
</g>
<polygon points="88,610 95.5,610 95.5,607 102,613 95.5,619 95.5,616 88,616" fill="#7cc480"/>
<polygon points="201,610 208.5,610 208.5,607 215,613 208.5,619 208.5,616 201,616" fill="#f6ab35"/>
<polygon points="280,610 287.5,610 287.5,607 294,613 287.5,619 287.5,616 280,616" fill="#2a87ab"/>
<g font-family="Liberation Serif, serif" font-weight="bold" font-size="8.4" fill="#111">
<text x="105.6" y="615.6">Integrase and regulation</text>
<text x="216" y="615.6">Toxin and lysis</text>
<text x="295" y="615.6">DNA packaging and morphogenesis</text>
</g>
<defs><linearGradient id="idg" x1="0" y1="0" x2="0" y2="1"><stop offset="0" stop-color="#6a5e5c"/><stop offset="1" stop-color="#dcd6d4"/></linearGradient></defs>
<rect x="483.5" y="544.6" width="7" height="37.4" fill="url(#idg)"/>
<g font-family="Liberation Serif, serif" fill="#222">
<text x="491" y="549" font-size="6.2">100%</text>
<text x="491" y="582.5" font-size="6.2">66%</text>
<text x="479.7" y="590.8" font-size="7">Identity</text>
</g>
</svg>
</body></html>
